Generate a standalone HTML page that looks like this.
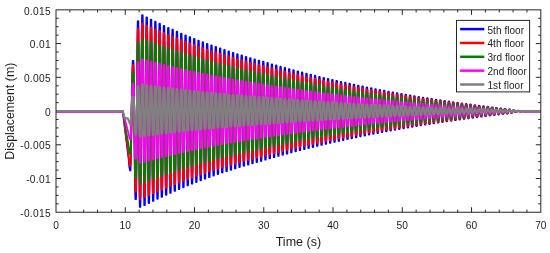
<!DOCTYPE html>
<html lang="en"><head><meta charset="utf-8"><title>Displacement vs Time</title>
<style>
html,body{margin:0;padding:0;background:#fff;}
body{width:550px;height:253px;position:relative;overflow:hidden;font-family:"Liberation Sans",sans-serif;color:#1c1c1c;}
.t{position:absolute;white-space:nowrap;line-height:1;}
.yt{font-size:10.2px;text-align:right;width:40px;left:10.9px;letter-spacing:0.3px;}
.xt{font-size:10.2px;text-align:center;width:40px;}
.lg{font-size:10px;left:487.5px;letter-spacing:0.05px;}
.xl{font-size:12.5px;left:248.4px;width:100px;text-align:center;top:236.0px;}
.yl{font-size:12.4px;left:-40.05px;top:104.6px;width:100px;text-align:center;transform:rotate(-90deg);transform-origin:50% 50%;}
</style></head><body>
<svg width="550" height="253" viewBox="0 0 550 253" style="position:absolute;left:0;top:0">
<rect x="0" y="0" width="550" height="253" fill="#ffffff"/>
<path stroke="#262626" stroke-width="1" fill="none" d="M69.85,212.25 v-2.60 M69.85,9.85 v2.60 M83.70,212.25 v-2.60 M83.70,9.85 v2.60 M97.55,212.25 v-2.60 M97.55,9.85 v2.60 M111.41,212.25 v-2.60 M111.41,9.85 v2.60 M125.26,212.25 v-5.00 M125.26,9.85 v5.00 M139.11,212.25 v-2.60 M139.11,9.85 v2.60 M152.96,212.25 v-2.60 M152.96,9.85 v2.60 M166.81,212.25 v-2.60 M166.81,9.85 v2.60 M180.66,212.25 v-2.60 M180.66,9.85 v2.60 M194.51,212.25 v-5.00 M194.51,9.85 v5.00 M208.37,212.25 v-2.60 M208.37,9.85 v2.60 M222.22,212.25 v-2.60 M222.22,9.85 v2.60 M236.07,212.25 v-2.60 M236.07,9.85 v2.60 M249.92,212.25 v-2.60 M249.92,9.85 v2.60 M263.77,212.25 v-5.00 M263.77,9.85 v5.00 M277.62,212.25 v-2.60 M277.62,9.85 v2.60 M291.47,212.25 v-2.60 M291.47,9.85 v2.60 M305.33,212.25 v-2.60 M305.33,9.85 v2.60 M319.18,212.25 v-2.60 M319.18,9.85 v2.60 M333.03,212.25 v-5.00 M333.03,9.85 v5.00 M346.88,212.25 v-2.60 M346.88,9.85 v2.60 M360.73,212.25 v-2.60 M360.73,9.85 v2.60 M374.58,212.25 v-2.60 M374.58,9.85 v2.60 M388.43,212.25 v-2.60 M388.43,9.85 v2.60 M402.29,212.25 v-5.00 M402.29,9.85 v5.00 M416.14,212.25 v-2.60 M416.14,9.85 v2.60 M429.99,212.25 v-2.60 M429.99,9.85 v2.60 M443.84,212.25 v-2.60 M443.84,9.85 v2.60 M457.69,212.25 v-2.60 M457.69,9.85 v2.60 M471.54,212.25 v-5.00 M471.54,9.85 v5.00 M485.39,212.25 v-2.60 M485.39,9.85 v2.60 M499.25,212.25 v-2.60 M499.25,9.85 v2.60 M513.10,212.25 v-2.60 M513.10,9.85 v2.60 M526.95,212.25 v-2.60 M526.95,9.85 v2.60 M56.00,18.28 h2.60 M540.80,18.28 h-2.60 M56.00,26.72 h2.60 M540.80,26.72 h-2.60 M56.00,35.15 h2.60 M540.80,35.15 h-2.60 M56.00,43.58 h5.00 M540.80,43.58 h-5.00 M56.00,52.02 h2.60 M540.80,52.02 h-2.60 M56.00,60.45 h2.60 M540.80,60.45 h-2.60 M56.00,68.88 h2.60 M540.80,68.88 h-2.60 M56.00,77.32 h5.00 M540.80,77.32 h-5.00 M56.00,85.75 h2.60 M540.80,85.75 h-2.60 M56.00,94.18 h2.60 M540.80,94.18 h-2.60 M56.00,102.62 h2.60 M540.80,102.62 h-2.60 M56.00,111.05 h5.00 M540.80,111.05 h-5.00 M56.00,119.48 h2.60 M540.80,119.48 h-2.60 M56.00,127.92 h2.60 M540.80,127.92 h-2.60 M56.00,136.35 h2.60 M540.80,136.35 h-2.60 M56.00,144.78 h5.00 M540.80,144.78 h-5.00 M56.00,153.22 h2.60 M540.80,153.22 h-2.60 M56.00,161.65 h2.60 M540.80,161.65 h-2.60 M56.00,170.08 h2.60 M540.80,170.08 h-2.60 M56.00,178.52 h5.00 M540.80,178.52 h-5.00 M56.00,186.95 h2.60 M540.80,186.95 h-2.60 M56.00,195.38 h2.60 M540.80,195.38 h-2.60 M56.00,203.82 h2.60 M540.80,203.82 h-2.60"/>
<g fill="none" stroke-linejoin="round" stroke-linecap="butt" stroke-width="1.80">
<path transform="translate(0,0.30)" stroke="#0000ff" d="M56.00,111.00 L122.80,111.00 L123.53,116.93 L124.26,122.86 L124.99,128.79 L125.72,134.72 L126.45,140.65 L127.18,146.58 L127.91,152.51 L128.64,158.44 L129.37,166.83 L130.10,170.30 L130.47,170.04 L130.85,161.05 L131.22,141.28 L131.60,115.40 L131.97,89.52 L132.35,69.75 L132.72,60.76 L133.10,60.50 L133.42,60.55 L133.75,70.70 L134.07,95.89 L134.40,129.70 L134.72,163.51 L135.05,188.70 L135.38,198.85 L135.70,198.90 L135.99,198.90 L136.29,187.30 L136.58,154.66 L136.88,109.85 L137.17,65.04 L137.46,32.40 L137.76,20.80 L138.05,20.80 L138.30,20.80 L138.56,30.19 L138.81,64.46 L139.06,113.70 L139.31,162.94 L139.56,197.21 L139.82,206.60 L140.07,206.60 L140.36,206.60 L140.65,194.26 L140.94,159.13 L141.24,110.78 L141.53,62.42 L141.82,27.29 L142.11,14.95 L142.40,14.95 L142.67,14.95 L142.94,25.82 L143.21,60.77 L143.48,109.91 L143.75,159.04 L144.02,194.00 L144.29,204.86 L144.56,204.86 L144.83,204.86 L145.10,194.12 L145.37,159.57 L145.64,111.00 L145.91,62.43 L146.18,27.88 L146.45,17.13 L146.72,17.13 L146.99,17.13 L147.26,27.75 L147.53,61.91 L147.80,109.92 L148.07,157.94 L148.34,192.10 L148.61,202.72 L148.88,202.72 L149.15,202.72 L149.42,192.22 L149.69,158.46 L149.96,111.00 L150.23,63.54 L150.50,29.78 L150.77,19.28 L151.03,19.28 L151.30,19.28 L151.57,29.66 L151.84,63.03 L152.11,109.94 L152.38,156.86 L152.65,190.23 L152.92,200.60 L153.19,200.60 L153.46,200.60 L153.73,190.35 L154.00,157.36 L154.27,111.00 L154.54,64.63 L154.81,31.65 L155.08,21.39 L155.35,21.39 L155.62,21.39 L155.89,31.53 L156.16,64.13 L156.43,109.96 L156.70,155.79 L156.97,188.40 L157.24,198.53 L157.51,198.53 L157.78,198.53 L158.05,188.52 L158.32,156.29 L158.59,111.00 L158.86,65.70 L159.13,33.48 L159.40,23.46 L159.67,23.46 L159.94,23.46 L160.21,33.36 L160.48,65.21 L160.75,109.98 L161.02,154.75 L161.29,186.60 L161.56,196.50 L161.83,196.50 L162.10,196.50 L162.37,186.71 L162.64,155.24 L162.91,111.00 L163.18,66.76 L163.45,35.28 L163.72,25.50 L163.99,25.50 L164.26,25.50 L164.53,35.17 L164.80,66.27 L165.07,110.00 L165.34,153.72 L165.61,184.83 L165.88,194.50 L166.15,194.50 L166.42,194.50 L166.69,184.95 L166.96,154.21 L167.23,111.00 L167.50,67.79 L167.77,37.05 L168.04,27.49 L168.31,27.49 L168.57,27.49 L168.84,36.93 L169.11,67.32 L169.38,110.02 L169.65,152.72 L169.92,183.10 L170.19,192.55 L170.46,192.55 L170.73,192.55 L171.00,183.21 L171.27,153.19 L171.54,111.00 L171.81,68.80 L172.08,38.78 L172.35,29.44 L172.62,29.44 L172.89,29.44 L173.16,38.67 L173.43,68.34 L173.70,110.04 L173.97,151.74 L174.24,181.41 L174.51,190.63 L174.78,190.63 L175.05,190.63 L175.32,181.52 L175.59,152.20 L175.86,110.99 L176.13,69.79 L176.40,40.47 L176.67,31.36 L176.94,31.36 L177.21,31.36 L177.48,40.36 L177.75,69.33 L178.02,110.06 L178.29,150.78 L178.56,179.75 L178.83,188.76 L179.10,188.76 L179.37,188.76 L179.64,179.86 L179.91,151.23 L180.18,110.99 L180.45,70.75 L180.72,42.13 L180.99,33.23 L181.26,33.23 L181.53,33.23 L181.80,42.02 L182.07,70.31 L182.34,110.08 L182.61,149.84 L182.88,178.13 L183.15,186.93 L183.42,186.93 L183.69,186.93 L183.96,178.24 L184.23,150.28 L184.50,110.99 L184.77,71.70 L185.04,43.75 L185.31,35.06 L185.57,35.06 L185.84,35.06 L186.11,43.65 L186.38,71.27 L186.65,110.10 L186.92,148.92 L187.19,176.55 L187.46,185.13 L187.73,185.13 L188.00,185.13 L188.27,176.65 L188.54,149.36 L188.81,110.99 L189.08,72.63 L189.35,45.33 L189.62,36.85 L189.89,36.85 L190.16,36.85 L190.43,45.23 L190.70,72.20 L190.97,110.12 L191.24,148.03 L191.51,175.00 L191.78,183.38 L192.05,183.38 L192.32,183.38 L192.59,175.10 L192.86,148.45 L193.13,110.99 L193.40,73.53 L193.67,46.88 L193.94,38.60 L194.21,38.60 L194.48,38.60 L194.75,46.78 L195.02,73.12 L195.29,110.14 L195.56,147.15 L195.83,173.49 L196.10,181.68 L196.37,181.68 L196.64,181.68 L196.91,173.59 L197.18,147.56 L197.45,110.99 L197.72,74.41 L197.99,48.39 L198.26,40.30 L198.53,40.30 L198.80,40.30 L199.07,48.30 L199.34,74.01 L199.61,110.15 L199.88,146.30 L200.15,172.01 L200.42,180.01 L200.69,180.01 L200.96,180.01 L201.23,172.11 L201.50,146.70 L201.77,110.99 L202.04,75.27 L202.31,49.86 L202.58,41.97 L202.84,41.97 L203.11,41.97 L203.38,49.77 L203.65,74.88 L203.92,110.17 L204.19,145.47 L204.46,170.58 L204.73,178.38 L205.00,178.38 L205.27,178.38 L205.54,170.67 L205.81,145.86 L206.08,110.99 L206.35,76.11 L206.62,51.30 L206.89,43.59 L207.16,43.59 L207.43,43.59 L207.70,51.21 L207.97,75.73 L208.24,110.19 L208.51,144.66 L208.78,169.18 L209.05,176.80 L209.32,176.80 L209.59,176.80 L209.86,169.27 L210.13,145.04 L210.40,110.99 L210.67,76.93 L210.94,52.71 L211.21,45.17 L211.48,45.17 L211.75,45.17 L212.02,52.62 L212.29,76.56 L212.56,110.21 L212.83,143.87 L213.10,167.81 L213.37,175.25 L213.64,175.25 L213.91,175.25 L214.18,167.90 L214.45,144.24 L214.72,110.98 L214.99,77.73 L215.26,54.07 L215.53,46.72 L215.80,46.72 L216.07,46.72 L216.34,53.99 L216.61,77.37 L216.88,110.23 L217.15,143.10 L217.42,166.48 L217.69,173.74 L217.96,173.74 L218.23,173.74 L218.50,166.56 L218.77,143.46 L219.04,110.98 L219.31,78.51 L219.58,55.41 L219.85,48.22 L220.12,48.22 L220.38,48.22 L220.65,55.32 L220.92,78.16 L221.19,110.25 L221.46,142.34 L221.73,165.18 L222.00,172.28 L222.27,172.28 L222.54,172.28 L222.81,165.26 L223.08,142.70 L223.35,110.98 L223.62,79.27 L223.89,56.71 L224.16,49.69 L224.43,49.69 L224.70,49.69 L224.97,56.62 L225.24,78.92 L225.51,110.27 L225.78,141.61 L226.05,163.91 L226.32,170.84 L226.59,170.84 L226.86,170.84 L227.13,163.99 L227.40,141.96 L227.67,110.98 L227.94,80.01 L228.21,57.97 L228.48,51.12 L228.75,51.12 L229.02,51.12 L229.29,57.89 L229.56,79.67 L229.83,110.29 L230.10,140.90 L230.37,162.68 L230.64,169.45 L230.91,169.45 L231.18,169.45 L231.45,162.76 L231.72,141.24 L231.99,110.98 L232.26,80.73 L232.53,59.21 L232.80,52.52 L233.07,52.52 L233.34,52.52 L233.61,59.13 L233.88,80.40 L234.15,110.30 L234.42,140.20 L234.69,161.48 L234.96,168.09 L235.23,168.09 L235.50,168.09 L235.77,161.55 L236.04,140.53 L236.31,110.99 L236.58,81.44 L236.85,60.42 L237.12,53.88 L237.38,53.88 L237.65,53.88 L237.92,60.34 L238.19,81.12 L238.46,110.32 L238.73,139.53 L239.00,160.30 L239.27,166.76 L239.54,166.76 L239.81,166.76 L240.08,160.38 L240.35,139.85 L240.62,110.99 L240.89,82.13 L241.16,61.60 L241.43,55.21 L241.70,55.21 L241.97,55.21 L242.24,61.52 L242.51,81.81 L242.78,110.34 L243.05,138.86 L243.32,159.16 L243.59,165.46 L243.86,165.46 L244.13,165.46 L244.40,159.23 L244.67,139.18 L244.94,110.99 L245.21,82.80 L245.48,62.75 L245.75,56.51 L246.02,56.51 L246.29,56.51 L246.56,62.67 L246.83,82.49 L247.10,110.36 L247.37,138.22 L247.64,158.04 L247.91,164.20 L248.18,164.20 L248.45,164.20 L248.72,158.11 L248.99,138.52 L249.26,110.99 L249.53,83.46 L249.80,63.87 L250.07,57.78 L250.34,57.78 L250.61,57.78 L250.88,63.80 L251.15,83.16 L251.42,110.37 L251.69,137.58 L251.96,156.94 L252.23,162.96 L252.50,162.96 L252.77,162.96 L253.04,157.01 L253.31,137.88 L253.58,110.99 L253.85,84.10 L254.12,64.97 L254.39,59.02 L254.66,59.02 L254.92,59.02 L255.19,64.90 L255.46,83.81 L255.73,110.39 L256.00,136.96 L256.27,155.87 L256.54,161.75 L256.81,161.75 L257.08,161.75 L257.35,155.94 L257.62,137.26 L257.89,111.00 L258.16,84.73 L258.43,66.05 L258.70,60.24 L258.97,60.24 L259.24,60.24 L259.51,65.98 L259.78,84.45 L260.05,110.40 L260.32,136.36 L260.59,154.82 L260.86,160.56 L261.13,160.56 L261.40,160.56 L261.67,154.89 L261.94,136.65 L262.21,111.00 L262.48,85.35 L262.75,67.11 L263.02,61.43 L263.29,61.43 L263.56,61.43 L263.83,67.04 L264.10,85.06 L264.37,110.39 L264.64,135.72 L264.91,153.74 L265.18,159.34 L265.45,159.34 L265.72,159.34 L265.99,153.82 L266.26,136.03 L266.53,111.03 L266.80,86.03 L267.07,68.25 L267.34,62.72 L267.61,62.72 L267.88,62.72 L268.15,68.17 L268.42,85.73 L268.69,110.40 L268.96,135.08 L269.23,152.63 L269.50,158.09 L269.77,158.09 L270.04,158.09 L270.31,152.71 L270.58,135.38 L270.85,111.03 L271.12,86.68 L271.39,69.36 L271.66,63.98 L271.93,63.98 L272.19,63.98 L272.46,69.29 L272.73,86.39 L273.00,110.42 L273.27,134.45 L273.54,151.55 L273.81,156.86 L274.08,156.86 L274.35,156.86 L274.62,151.62 L274.89,134.75 L275.16,111.04 L275.43,87.33 L275.70,70.46 L275.97,65.22 L276.24,65.22 L276.51,65.22 L276.78,70.39 L277.05,87.04 L277.32,110.43 L277.59,133.83 L277.86,150.48 L278.13,155.65 L278.40,155.65 L278.67,155.65 L278.94,150.55 L279.21,134.12 L279.48,111.04 L279.75,87.96 L280.02,71.54 L280.29,66.43 L280.56,66.43 L280.83,66.43 L281.10,71.47 L281.37,87.67 L281.64,110.45 L281.91,133.22 L282.18,149.42 L282.45,154.46 L282.72,154.46 L282.99,154.46 L283.26,149.49 L283.53,133.51 L283.80,111.05 L284.07,88.58 L284.34,72.60 L284.61,67.63 L284.88,67.63 L285.15,67.63 L285.42,72.53 L285.69,88.30 L285.96,110.46 L286.23,132.62 L286.50,148.39 L286.77,153.29 L287.04,153.29 L287.31,153.29 L287.58,148.46 L287.85,132.91 L288.12,111.05 L288.39,89.19 L288.66,73.64 L288.93,68.81 L289.19,68.81 L289.46,68.81 L289.73,73.58 L290.00,88.92 L290.27,110.48 L290.54,132.04 L290.81,147.38 L291.08,152.14 L291.35,152.14 L291.62,152.14 L291.89,147.44 L292.16,132.32 L292.43,111.05 L292.70,89.79 L292.97,74.67 L293.24,69.96 L293.51,69.96 L293.78,69.96 L294.05,74.60 L294.32,89.52 L294.59,110.49 L294.86,131.46 L295.13,146.38 L295.40,151.02 L295.67,151.02 L295.94,151.02 L296.21,146.44 L296.48,131.73 L296.75,111.06 L297.02,90.38 L297.29,75.67 L297.56,71.10 L297.83,71.10 L298.10,71.10 L298.37,75.61 L298.64,90.12 L298.91,110.50 L299.18,130.89 L299.45,145.40 L299.72,149.91 L299.99,149.91 L300.26,149.91 L300.53,145.46 L300.80,131.16 L301.07,111.06 L301.34,90.96 L301.61,76.66 L301.88,72.22 L302.15,72.22 L302.42,72.22 L302.69,76.60 L302.96,90.70 L303.23,110.52 L303.50,130.34 L303.77,144.43 L304.04,148.82 L304.31,148.82 L304.58,148.82 L304.85,144.50 L305.12,130.60 L305.39,111.07 L305.66,91.53 L305.93,77.64 L306.20,73.32 L306.47,73.32 L306.73,73.32 L307.00,77.58 L307.27,91.28 L307.54,110.53 L307.81,129.79 L308.08,143.49 L308.35,147.75 L308.62,147.75 L308.89,147.75 L309.16,143.55 L309.43,130.05 L309.70,111.07 L309.97,92.10 L310.24,78.59 L310.51,74.40 L310.78,74.40 L311.05,74.40 L311.32,78.53 L311.59,91.84 L311.86,110.55 L312.13,129.25 L312.40,142.56 L312.67,146.69 L312.94,146.69 L313.21,146.69 L313.48,142.62 L313.75,129.51 L314.02,111.08 L314.29,92.65 L314.56,79.53 L314.83,75.46 L315.10,75.46 L315.37,75.46 L315.64,79.48 L315.91,92.40 L316.18,110.56 L316.45,128.72 L316.72,141.64 L316.99,145.66 L317.26,145.66 L317.53,145.66 L317.80,141.70 L318.07,128.97 L318.34,111.08 L318.61,93.19 L318.88,80.46 L319.15,76.50 L319.42,76.50 L319.69,76.50 L319.96,80.40 L320.23,92.94 L320.50,110.57 L320.77,128.20 L321.04,140.74 L321.31,144.64 L321.58,144.64 L321.85,144.64 L322.12,140.80 L322.39,128.45 L322.66,111.09 L322.93,93.72 L323.20,81.37 L323.47,77.53 L323.74,77.53 L324.00,77.53 L324.27,81.31 L324.54,93.48 L324.81,110.59 L325.08,127.69 L325.35,139.86 L325.62,143.64 L325.89,143.64 L326.16,143.64 L326.43,139.92 L326.70,127.94 L326.97,111.09 L327.24,94.25 L327.51,82.26 L327.78,78.54 L328.05,78.54 L328.32,78.54 L328.59,82.21 L328.86,94.01 L329.13,110.60 L329.40,127.19 L329.67,138.99 L329.94,142.66 L330.21,142.66 L330.48,142.66 L330.75,139.05 L331.02,127.43 L331.29,111.10 L331.56,94.76 L331.83,83.14 L332.10,79.53 L332.37,79.53 L332.64,79.53 L332.91,83.08 L333.18,94.53 L333.45,110.61 L333.72,126.70 L333.99,138.14 L334.26,141.70 L334.53,141.70 L334.80,141.70 L335.07,138.20 L335.34,126.93 L335.61,111.10 L335.88,95.27 L336.15,84.00 L336.42,80.50 L336.69,80.50 L336.96,80.50 L337.23,83.95 L337.50,95.04 L337.77,110.62 L338.04,126.21 L338.31,137.29 L338.58,140.74 L338.85,140.74 L339.12,140.74 L339.39,137.35 L339.66,126.44 L339.93,111.11 L340.20,95.78 L340.47,84.87 L340.74,81.48 L341.00,81.48 L341.27,81.48 L341.54,84.82 L341.81,95.55 L342.08,110.63 L342.35,125.72 L342.62,136.45 L342.89,139.79 L343.16,139.79 L343.43,139.79 L343.70,136.51 L343.97,125.95 L344.24,111.12 L344.51,96.28 L344.78,85.72 L345.05,82.44 L345.32,82.44 L345.59,82.44 L345.86,85.67 L346.13,96.05 L346.40,110.65 L346.67,125.24 L346.94,135.62 L347.21,138.85 L347.48,138.85 L347.75,138.85 L348.02,135.68 L348.29,125.47 L348.56,111.12 L348.83,96.77 L349.10,86.56 L349.37,83.39 L349.64,83.39 L349.91,83.39 L350.18,86.51 L350.45,96.55 L350.72,110.66 L350.99,124.77 L351.26,134.81 L351.53,137.93 L351.80,137.93 L352.07,137.93 L352.34,134.86 L352.61,125.00 L352.88,111.13 L353.15,97.26 L353.42,87.39 L353.69,84.32 L353.96,84.32 L354.23,84.32 L354.50,87.34 L354.77,97.04 L355.04,110.67 L355.31,124.31 L355.58,134.01 L355.85,137.03 L356.12,137.03 L356.39,137.03 L356.66,134.06 L356.93,124.53 L357.20,111.13 L357.47,97.73 L357.74,88.20 L358.01,85.24 L358.27,85.24 L358.54,85.24 L358.81,88.15 L359.08,97.52 L359.35,110.69 L359.62,123.86 L359.89,133.22 L360.16,136.14 L360.43,136.14 L360.70,136.14 L360.97,133.28 L361.24,124.07 L361.51,111.14 L361.78,98.20 L362.05,89.00 L362.32,86.14 L362.59,86.14 L362.86,86.14 L363.13,88.95 L363.40,97.99 L363.67,110.70 L363.94,123.41 L364.21,132.45 L364.48,135.26 L364.75,135.26 L365.02,135.26 L365.29,132.50 L365.56,123.62 L365.83,111.14 L366.10,98.66 L366.37,89.78 L366.64,87.02 L366.91,87.02 L367.18,87.02 L367.45,89.73 L367.72,98.45 L367.99,110.71 L368.26,122.97 L368.53,131.69 L368.80,134.40 L369.07,134.40 L369.34,134.40 L369.61,131.74 L369.88,123.18 L370.15,111.15 L370.42,99.12 L370.69,90.55 L370.96,87.89 L371.23,87.89 L371.50,87.89 L371.77,90.51 L372.04,98.91 L372.31,110.73 L372.58,122.54 L372.85,130.94 L373.12,133.56 L373.39,133.56 L373.66,133.56 L373.93,130.99 L374.20,122.75 L374.47,111.15 L374.74,99.56 L375.01,91.31 L375.28,88.75 L375.54,88.75 L375.81,88.75 L376.08,91.27 L376.35,99.36 L376.62,110.74 L376.89,122.12 L377.16,130.21 L377.43,132.73 L377.70,132.73 L377.97,132.73 L378.24,130.26 L378.51,122.32 L378.78,111.16 L379.05,100.00 L379.32,92.06 L379.59,89.59 L379.86,89.59 L380.13,89.59 L380.40,92.01 L380.67,99.80 L380.94,110.75 L381.21,121.70 L381.48,129.49 L381.75,131.91 L382.02,131.91 L382.29,131.91 L382.56,129.54 L382.83,121.90 L383.10,111.16 L383.37,100.43 L383.64,92.79 L383.91,90.42 L384.18,90.42 L384.45,90.42 L384.72,92.75 L384.99,100.24 L385.26,110.76 L385.53,121.29 L385.80,128.78 L386.07,131.11 L386.34,131.11 L386.61,131.11 L386.88,128.83 L387.15,121.49 L387.42,111.17 L387.69,100.85 L387.96,93.51 L388.23,91.23 L388.50,91.23 L388.77,91.23 L389.04,93.47 L389.31,100.66 L389.58,110.78 L389.85,120.89 L390.12,128.08 L390.39,130.32 L390.66,130.32 L390.93,130.32 L391.20,128.13 L391.47,121.08 L391.74,111.18 L392.01,101.27 L392.28,94.22 L392.55,92.03 L392.81,92.03 L393.08,92.03 L393.35,94.18 L393.62,101.08 L393.89,110.79 L394.16,120.49 L394.43,127.40 L394.70,129.54 L394.97,129.54 L395.24,129.54 L395.51,127.44 L395.78,120.68 L396.05,111.18 L396.32,101.68 L396.59,94.92 L396.86,92.82 L397.13,92.82 L397.40,92.82 L397.67,94.88 L397.94,101.50 L398.21,110.80 L398.48,120.11 L398.75,126.72 L399.02,128.78 L399.29,128.78 L399.56,128.78 L399.83,126.77 L400.10,120.29 L400.37,111.19 L400.64,102.08 L400.91,95.61 L401.18,93.59 L401.45,93.59 L401.72,93.59 L401.99,95.56 L402.26,101.90 L402.53,110.81 L402.80,119.72 L403.07,126.06 L403.34,128.03 L403.61,128.03 L403.88,128.03 L404.15,126.10 L404.42,119.90 L404.69,111.19 L404.96,102.47 L405.23,96.27 L405.50,94.35 L405.77,94.35 L406.04,94.35 L406.31,96.23 L406.58,102.29 L406.85,110.81 L407.12,119.34 L407.39,125.40 L407.66,127.28 L407.93,127.28 L408.20,127.28 L408.47,125.44 L408.74,119.51 L409.01,111.18 L409.28,102.85 L409.55,96.93 L409.82,95.09 L410.09,95.09 L410.35,95.09 L410.62,96.89 L410.89,102.68 L411.16,110.82 L411.43,118.96 L411.70,124.75 L411.97,126.55 L412.24,126.55 L412.51,126.55 L412.78,124.79 L413.05,119.13 L413.32,111.18 L413.59,103.23 L413.86,97.57 L414.13,95.81 L414.40,95.81 L414.67,95.81 L414.94,97.53 L415.21,103.05 L415.48,110.82 L415.75,118.59 L416.02,124.11 L416.29,125.83 L416.56,125.83 L416.83,125.83 L417.10,124.15 L417.37,118.76 L417.64,111.18 L417.91,103.60 L418.18,98.20 L418.45,96.53 L418.72,96.53 L418.99,96.53 L419.26,98.16 L419.53,103.43 L419.80,110.82 L420.07,118.22 L420.34,123.48 L420.61,125.12 L420.88,125.12 L421.15,125.12 L421.42,123.52 L421.69,118.39 L421.96,111.17 L422.23,103.96 L422.50,98.83 L422.77,97.23 L423.04,97.23 L423.31,97.23 L423.58,98.79 L423.85,103.79 L424.12,110.83 L424.39,117.86 L424.66,122.87 L424.93,124.42 L425.20,124.42 L425.47,124.42 L425.74,122.91 L426.01,118.03 L426.28,111.17 L426.55,104.31 L426.82,99.44 L427.09,97.92 L427.36,97.92 L427.62,97.92 L427.89,99.40 L428.16,104.15 L428.43,110.83 L428.70,117.51 L428.97,122.26 L429.24,123.74 L429.51,123.74 L429.78,123.74 L430.05,122.30 L430.32,117.67 L430.59,111.17 L430.86,104.66 L431.13,100.04 L431.40,98.60 L431.67,98.60 L431.94,98.60 L432.21,100.00 L432.48,104.50 L432.75,110.83 L433.02,117.16 L433.29,121.67 L433.56,123.07 L433.83,123.07 L434.10,123.07 L434.37,121.70 L434.64,117.32 L434.91,111.17 L435.18,105.01 L435.45,100.63 L435.72,99.27 L435.99,99.27 L436.26,99.27 L436.53,100.59 L436.80,104.85 L437.07,110.84 L437.34,116.82 L437.61,121.08 L437.88,122.40 L438.15,122.40 L438.42,122.40 L438.69,121.12 L438.96,116.98 L439.23,111.16 L439.50,105.35 L439.77,101.21 L440.04,99.92 L440.31,99.92 L440.58,99.92 L440.85,101.17 L441.12,105.19 L441.39,110.84 L441.66,116.49 L441.93,120.50 L442.20,121.75 L442.47,121.75 L442.74,121.75 L443.01,120.54 L443.28,116.64 L443.55,111.16 L443.82,105.68 L444.09,101.78 L444.36,100.57 L444.62,100.57 L444.89,100.57 L445.16,101.74 L445.43,105.53 L445.70,110.84 L445.97,116.16 L446.24,119.94 L446.51,121.11 L446.78,121.11 L447.05,121.11 L447.32,119.97 L447.59,116.31 L447.86,111.16 L448.13,106.01 L448.40,102.34 L448.67,101.20 L448.94,101.20 L449.21,101.20 L449.48,102.31 L449.75,105.85 L450.02,110.84 L450.29,115.83 L450.56,119.38 L450.83,120.48 L451.10,120.48 L451.37,120.48 L451.64,119.42 L451.91,115.98 L452.18,111.16 L452.45,106.33 L452.72,102.89 L452.99,101.83 L453.26,101.83 L453.53,101.83 L453.80,102.86 L454.07,106.18 L454.34,110.85 L454.61,115.51 L454.88,118.83 L455.15,119.87 L455.42,119.87 L455.69,119.87 L455.96,118.87 L456.23,115.66 L456.50,111.15 L456.77,106.64 L457.04,103.44 L457.31,102.44 L457.58,102.44 L457.85,102.44 L458.12,103.40 L458.39,106.50 L458.66,110.85 L458.93,115.20 L459.20,118.30 L459.47,119.26 L459.74,119.26 L460.01,119.26 L460.28,118.33 L460.55,115.35 L460.82,111.15 L461.09,106.95 L461.36,103.97 L461.63,103.04 L461.89,103.04 L462.16,103.04 L462.43,103.94 L462.70,106.81 L462.97,110.85 L463.24,114.89 L463.51,117.77 L463.78,118.66 L464.05,118.66 L464.32,118.66 L464.59,117.80 L464.86,115.04 L465.13,111.15 L465.40,107.26 L465.67,104.49 L465.94,103.63 L466.21,103.63 L466.48,103.63 L466.75,104.46 L467.02,107.12 L467.29,110.85 L467.56,114.59 L467.83,117.25 L468.10,118.07 L468.37,118.07 L468.64,118.07 L468.91,117.28 L469.18,114.73 L469.45,111.15 L469.72,107.56 L469.99,105.01 L470.26,104.22 L470.53,104.22 L470.80,104.22 L471.07,104.98 L471.34,107.42 L471.61,110.86 L471.88,114.29 L472.15,116.74 L472.42,117.50 L472.69,117.50 L472.96,117.50 L473.23,116.77 L473.50,114.43 L473.77,111.14 L474.04,107.86 L474.31,105.52 L474.58,104.79 L474.85,104.79 L475.12,104.79 L475.39,105.48 L475.66,107.72 L475.93,110.86 L476.20,114.00 L476.47,116.23 L476.74,116.93 L477.01,116.93 L477.28,116.93 L477.55,116.27 L477.82,114.13 L478.09,111.14 L478.36,108.15 L478.63,106.02 L478.90,105.35 L479.16,105.35 L479.43,105.35 L479.70,105.98 L479.97,108.01 L480.24,110.86 L480.51,113.71 L480.78,115.74 L481.05,116.37 L481.32,116.37 L481.59,116.37 L481.86,115.77 L482.13,113.84 L482.40,111.14 L482.67,108.43 L482.94,106.51 L483.21,105.91 L483.48,105.91 L483.75,105.91 L484.02,106.47 L484.29,108.30 L484.56,110.86 L484.83,113.43 L485.10,115.25 L485.37,115.82 L485.64,115.82 L485.91,115.82 L486.18,115.28 L486.45,113.56 L486.72,111.14 L486.99,108.71 L487.26,106.99 L487.53,106.45 L487.80,106.45 L488.07,106.45 L488.34,106.96 L488.61,108.58 L488.88,110.87 L489.15,113.15 L489.42,114.78 L489.69,115.28 L489.96,115.28 L490.23,115.28 L490.50,114.81 L490.77,113.28 L491.04,111.13 L491.31,108.99 L491.58,107.46 L491.85,106.99 L492.12,106.99 L492.39,106.99 L492.66,107.43 L492.93,108.86 L493.20,110.87 L493.47,112.88 L493.74,114.31 L494.01,114.75 L494.28,114.75 L494.55,114.75 L494.82,114.34 L495.09,113.00 L495.36,111.13 L495.63,109.26 L495.90,107.93 L496.17,107.51 L496.43,107.51 L496.70,107.51 L496.97,107.90 L497.24,109.13 L497.51,110.87 L497.78,112.61 L498.05,113.84 L498.32,114.23 L498.59,114.23 L498.86,114.23 L499.13,113.87 L499.40,112.73 L499.67,111.13 L499.94,109.53 L500.21,108.38 L500.48,108.03 L500.75,108.03 L501.02,108.03 L501.29,108.35 L501.56,109.40 L501.83,110.87 L502.10,112.34 L502.37,113.39 L502.64,113.71 L502.91,113.71 L503.18,113.71 L503.45,113.42 L503.72,112.47 L503.99,111.13 L504.26,109.79 L504.53,108.83 L504.80,108.54 L505.07,108.54 L505.34,108.54 L505.61,108.81 L505.88,109.67 L506.15,110.87 L506.42,112.08 L506.69,112.94 L506.96,113.21 L507.23,113.21 L507.50,113.21 L507.77,112.97 L508.04,112.20 L508.31,111.12 L508.58,110.04 L508.85,109.28 L509.12,109.04 L509.39,109.04 L509.66,109.04 L509.93,109.24 L510.20,109.89 L510.47,110.80 L510.74,111.71 L511.01,112.36 L511.28,112.56 L511.55,112.56 L511.82,112.56 L512.09,112.41 L512.36,111.90 L512.63,111.20 L512.90,110.49 L513.17,109.99 L513.44,109.83 L513.71,109.83 L513.97,109.83 L514.24,109.94 L514.51,110.30 L514.78,110.80 L515.05,111.30 L515.32,111.66 L515.59,111.77 L515.86,111.77 L516.13,111.77 L516.40,111.71 L516.67,111.49 L516.94,111.19 L517.21,110.89 L517.48,110.67 L517.75,110.61 L518.02,110.61 L518.29,110.61 L518.56,110.64 L518.83,110.76 L519.10,110.92 L519.37,111.09 L519.64,111.21 L519.91,111.24 L520.18,111.24 L520.45,111.24 L520.72,111.22 L520.99,111.16 L521.26,111.08 L521.53,110.99 L521.80,110.93 L522.07,110.91 L522.34,110.91 L522.61,110.91 L522.88,110.91 L523.15,110.93 L523.42,110.95 L523.69,110.98 L523.96,110.99 L524.23,111.00 L524.50,111.00 L526.00,111.00 L540.80,111.00"/>
<path transform="translate(0,0.30)" stroke="#ff0000" d="M56.00,111.00 L122.80,111.00 L123.53,116.50 L124.26,121.99 L124.99,127.49 L125.72,132.99 L126.45,138.49 L127.18,143.98 L127.91,149.48 L128.64,154.98 L129.37,162.75 L130.10,165.97 L130.47,165.73 L130.85,157.44 L131.22,139.22 L131.60,115.36 L131.97,91.50 L132.35,73.28 L132.72,64.99 L133.10,64.75 L133.42,64.80 L133.75,74.08 L134.07,97.13 L134.40,128.07 L134.72,159.01 L135.05,182.06 L135.38,191.34 L135.70,191.39 L135.99,191.39 L136.29,180.77 L136.58,150.91 L136.88,109.91 L137.17,68.90 L137.46,39.04 L137.76,28.42 L138.05,28.42 L138.30,28.42 L138.56,37.02 L138.81,68.37 L139.06,113.43 L139.31,158.48 L139.56,189.84 L139.82,198.43 L140.07,198.43 L140.36,198.43 L140.65,187.14 L140.94,154.99 L141.24,110.75 L141.53,66.51 L141.82,34.35 L142.11,23.07 L142.40,23.07 L142.67,23.07 L142.94,33.01 L143.21,64.99 L143.48,109.95 L143.75,154.91 L144.02,186.90 L144.29,196.84 L144.56,196.84 L144.83,196.84 L145.10,187.01 L145.37,155.39 L145.64,110.95 L145.91,66.51 L146.18,34.89 L146.45,25.07 L146.72,25.07 L146.99,25.07 L147.26,34.78 L147.53,66.04 L147.80,109.97 L148.07,153.90 L148.34,185.16 L148.61,194.87 L148.88,194.87 L149.15,194.87 L149.42,185.27 L149.69,154.38 L149.96,110.95 L150.23,67.53 L150.50,36.64 L150.77,27.03 L151.03,27.03 L151.30,27.03 L151.57,36.53 L151.84,67.06 L152.11,109.99 L152.38,152.91 L152.65,183.45 L152.92,192.94 L153.19,192.94 L153.46,192.94 L153.73,183.56 L154.00,153.38 L154.27,110.95 L154.54,68.53 L154.81,38.35 L155.08,28.96 L155.35,28.96 L155.62,28.96 L155.89,38.24 L156.16,68.07 L156.43,110.01 L156.70,151.94 L156.97,181.77 L157.24,191.05 L157.51,191.05 L157.78,191.05 L158.05,181.88 L158.32,152.40 L158.59,110.95 L158.86,69.51 L159.13,40.03 L159.40,30.86 L159.67,30.86 L159.94,30.86 L160.21,39.92 L160.48,69.06 L160.75,110.02 L161.02,150.99 L161.29,180.13 L161.56,189.19 L161.83,189.19 L162.10,189.19 L162.37,180.23 L162.64,151.44 L162.91,110.95 L163.18,70.47 L163.45,41.67 L163.72,32.72 L163.99,32.72 L164.26,32.72 L164.53,41.57 L164.80,70.03 L165.07,110.04 L165.34,150.05 L165.61,178.51 L165.88,187.36 L166.15,187.36 L166.42,187.36 L166.69,178.62 L166.96,150.49 L167.23,110.95 L167.50,71.42 L167.77,43.29 L168.04,34.55 L168.31,34.55 L168.57,34.55 L168.84,43.19 L169.11,70.99 L169.38,110.06 L169.65,149.13 L169.92,176.93 L170.19,185.57 L170.46,185.57 L170.73,185.57 L171.00,177.03 L171.27,149.57 L171.54,110.95 L171.81,72.34 L172.08,44.87 L172.35,36.33 L172.62,36.33 L172.89,36.33 L173.16,44.77 L173.43,71.92 L173.70,110.08 L173.97,148.24 L174.24,175.38 L174.51,183.82 L174.78,183.82 L175.05,183.82 L175.32,175.48 L175.59,148.66 L175.86,110.95 L176.13,73.25 L176.40,46.42 L176.67,38.09 L176.94,38.09 L177.21,38.09 L177.48,46.33 L177.75,72.84 L178.02,110.10 L178.29,147.36 L178.56,173.87 L178.83,182.11 L179.10,182.11 L179.37,182.11 L179.64,173.97 L179.91,147.77 L180.18,110.95 L180.45,74.14 L180.72,47.94 L180.99,39.80 L181.26,39.80 L181.53,39.80 L181.80,47.85 L182.07,73.73 L182.34,110.12 L182.61,146.50 L182.88,172.39 L183.15,180.43 L183.42,180.43 L183.69,180.43 L183.96,172.48 L184.23,146.90 L184.50,110.95 L184.77,75.00 L185.04,49.43 L185.31,41.48 L185.57,41.48 L185.84,41.48 L186.11,49.33 L186.38,74.61 L186.65,110.13 L186.92,145.66 L187.19,170.94 L187.46,178.79 L187.73,178.79 L188.00,178.79 L188.27,171.03 L188.54,146.06 L188.81,110.95 L189.08,75.85 L189.35,50.88 L189.62,43.11 L189.89,43.11 L190.16,43.11 L190.43,50.78 L190.70,75.46 L190.97,110.15 L191.24,144.84 L191.51,169.52 L191.78,177.19 L192.05,177.19 L192.32,177.19 L192.59,169.61 L192.86,145.23 L193.13,110.95 L193.40,76.68 L193.67,52.29 L193.94,44.71 L194.21,44.71 L194.48,44.71 L194.75,52.20 L195.02,76.30 L195.29,110.17 L195.56,144.04 L195.83,168.14 L196.10,175.63 L196.37,175.63 L196.64,175.63 L196.91,168.23 L197.18,144.42 L197.45,110.95 L197.72,77.49 L197.99,53.68 L198.26,46.27 L198.53,46.27 L198.80,46.27 L199.07,53.59 L199.34,77.12 L199.61,110.19 L199.88,143.26 L200.15,166.79 L200.42,174.11 L200.69,174.11 L200.96,174.11 L201.23,166.88 L201.50,143.63 L201.77,110.95 L202.04,78.27 L202.31,55.03 L202.58,47.80 L202.84,47.80 L203.11,47.80 L203.38,54.94 L203.65,77.92 L203.92,110.21 L204.19,142.50 L204.46,165.48 L204.73,172.62 L205.00,172.62 L205.27,172.62 L205.54,165.56 L205.81,142.86 L206.08,110.95 L206.35,79.04 L206.62,56.34 L206.89,49.29 L207.16,49.29 L207.43,49.29 L207.70,56.26 L207.97,78.69 L208.24,110.23 L208.51,141.76 L208.78,164.20 L209.05,171.17 L209.32,171.17 L209.59,171.17 L209.86,164.28 L210.13,142.11 L210.40,110.95 L210.67,79.79 L210.94,57.63 L211.21,50.74 L211.48,50.74 L211.75,50.74 L212.02,57.55 L212.29,79.45 L212.56,110.25 L212.83,141.04 L213.10,162.95 L213.37,169.76 L213.64,169.76 L213.91,169.76 L214.18,163.03 L214.45,141.38 L214.72,110.95 L214.99,80.53 L215.26,58.88 L215.53,52.15 L215.80,52.15 L216.07,52.15 L216.34,58.80 L216.61,80.19 L216.88,110.26 L217.15,140.33 L217.42,161.73 L217.69,168.38 L217.96,168.38 L218.23,168.38 L218.50,161.81 L218.77,140.67 L219.04,110.95 L219.31,81.24 L219.58,60.10 L219.85,53.53 L220.12,53.53 L220.38,53.53 L220.65,60.02 L220.92,80.91 L221.19,110.28 L221.46,139.65 L221.73,160.54 L222.00,167.03 L222.27,167.03 L222.54,167.03 L222.81,160.62 L223.08,139.97 L223.35,110.95 L223.62,81.93 L223.89,61.29 L224.16,54.87 L224.43,54.87 L224.70,54.87 L224.97,61.21 L225.24,81.62 L225.51,110.30 L225.78,138.98 L226.05,159.38 L226.32,165.73 L226.59,165.73 L226.86,165.73 L227.13,159.46 L227.40,139.30 L227.67,110.95 L227.94,82.61 L228.21,62.45 L228.48,56.18 L228.75,56.18 L229.02,56.18 L229.29,62.38 L229.56,82.31 L229.83,110.32 L230.10,138.33 L230.37,158.26 L230.64,164.45 L230.91,164.45 L231.18,164.45 L231.45,158.33 L231.72,138.64 L231.99,110.96 L232.26,83.28 L232.53,63.58 L232.80,57.46 L233.07,57.46 L233.34,57.46 L233.61,63.51 L233.88,82.98 L234.15,110.33 L234.42,137.69 L234.69,157.16 L234.96,163.21 L235.23,163.21 L235.50,163.21 L235.77,157.23 L236.04,137.99 L236.31,110.96 L236.58,83.92 L236.85,64.69 L237.12,58.71 L237.38,58.71 L237.65,58.71 L237.92,64.62 L238.19,83.63 L238.46,110.35 L238.73,137.07 L239.00,156.08 L239.27,161.99 L239.54,161.99 L239.81,161.99 L240.08,156.15 L240.35,137.37 L240.62,110.96 L240.89,84.55 L241.16,65.77 L241.43,59.93 L241.70,59.93 L241.97,59.93 L242.24,65.70 L242.51,84.27 L242.78,110.37 L243.05,136.47 L243.32,155.03 L243.59,160.81 L243.86,160.81 L244.13,160.81 L244.40,155.10 L244.67,136.75 L244.94,110.96 L245.21,85.17 L245.48,66.82 L245.75,61.12 L246.02,61.12 L246.29,61.12 L246.56,66.75 L246.83,84.89 L247.10,110.38 L247.37,135.87 L247.64,154.01 L247.91,159.65 L248.18,159.65 L248.45,159.65 L248.72,154.08 L248.99,136.16 L249.26,110.96 L249.53,85.77 L249.80,67.85 L250.07,62.28 L250.34,62.28 L250.61,62.28 L250.88,67.79 L251.15,85.50 L251.42,110.40 L251.69,135.30 L251.96,153.01 L252.23,158.52 L252.50,158.52 L252.77,158.52 L253.04,153.08 L253.31,135.57 L253.58,110.97 L253.85,86.36 L254.12,68.86 L254.39,63.42 L254.66,63.42 L254.92,63.42 L255.19,68.79 L255.46,86.09 L255.73,110.41 L256.00,134.73 L256.27,152.03 L256.54,157.41 L256.81,157.41 L257.08,157.41 L257.35,152.10 L257.62,135.00 L257.89,110.97 L258.16,86.94 L258.43,69.84 L258.70,64.53 L258.97,64.53 L259.24,64.53 L259.51,69.78 L259.78,86.68 L260.05,110.43 L260.32,134.18 L260.59,151.07 L260.86,156.33 L261.13,156.33 L261.40,156.33 L261.67,151.14 L261.94,134.44 L262.21,110.97 L262.48,87.51 L262.75,70.81 L263.02,65.62 L263.29,65.62 L263.56,65.62 L263.83,70.75 L264.10,87.24 L264.37,110.42 L264.64,133.59 L264.91,150.08 L265.18,155.21 L265.45,155.21 L265.72,155.21 L265.99,150.15 L266.26,133.88 L266.53,111.00 L266.80,88.13 L267.07,71.86 L267.34,66.80 L267.61,66.80 L267.88,66.80 L268.15,71.79 L268.42,87.85 L268.69,110.43 L268.96,133.01 L269.23,149.07 L269.50,154.06 L269.77,154.06 L270.04,154.06 L270.31,149.14 L270.58,133.29 L270.85,111.01 L271.12,88.73 L271.39,72.88 L271.66,67.95 L271.93,67.95 L272.19,67.95 L272.46,72.81 L272.73,88.46 L273.00,110.44 L273.27,132.43 L273.54,148.08 L273.81,152.94 L274.08,152.94 L274.35,152.94 L274.62,148.14 L274.89,132.71 L275.16,111.01 L275.43,89.32 L275.70,73.88 L275.97,69.09 L276.24,69.09 L276.51,69.09 L276.78,73.82 L277.05,89.05 L277.32,110.46 L277.59,131.87 L277.86,147.10 L278.13,151.83 L278.40,151.83 L278.67,151.83 L278.94,147.16 L279.21,132.14 L279.48,111.02 L279.75,89.90 L280.02,74.87 L280.29,70.20 L280.56,70.20 L280.83,70.20 L281.10,74.81 L281.37,89.63 L281.64,110.47 L281.91,131.31 L282.18,146.14 L282.45,150.75 L282.72,150.75 L282.99,150.75 L283.26,146.20 L283.53,131.58 L283.80,111.02 L284.07,90.47 L284.34,75.84 L284.61,71.30 L284.88,71.30 L285.15,71.30 L285.42,75.78 L285.69,90.21 L285.96,110.49 L286.23,130.77 L286.50,145.19 L286.77,149.68 L287.04,149.68 L287.31,149.68 L287.58,145.25 L287.85,131.03 L288.12,111.03 L288.39,91.03 L288.66,76.80 L288.93,72.37 L289.19,72.37 L289.46,72.37 L289.73,76.74 L290.00,90.77 L290.27,110.50 L290.54,130.23 L290.81,144.26 L291.08,148.63 L291.35,148.63 L291.62,148.63 L291.89,144.32 L292.16,130.48 L292.43,111.03 L292.70,91.58 L292.97,77.74 L293.24,73.43 L293.51,73.43 L293.78,73.43 L294.05,77.68 L294.32,91.33 L294.59,110.51 L294.86,129.70 L295.13,143.35 L295.40,147.59 L295.67,147.59 L295.94,147.59 L296.21,143.41 L296.48,129.95 L296.75,111.03 L297.02,92.12 L297.29,78.66 L297.56,74.47 L297.83,74.47 L298.10,74.47 L298.37,78.60 L298.64,91.87 L298.91,110.53 L299.18,129.18 L299.45,142.46 L299.72,146.58 L299.99,146.58 L300.26,146.58 L300.53,142.51 L300.80,129.43 L301.07,111.04 L301.34,92.65 L301.61,79.56 L301.88,75.50 L302.15,75.50 L302.42,75.50 L302.69,79.51 L302.96,92.41 L303.23,110.54 L303.50,128.67 L303.77,141.57 L304.04,145.58 L304.31,145.58 L304.58,145.58 L304.85,141.63 L305.12,128.92 L305.39,111.04 L305.66,93.17 L305.93,80.46 L306.20,76.50 L306.47,76.50 L306.73,76.50 L307.00,80.40 L307.27,92.94 L307.54,110.55 L307.81,128.17 L308.08,140.71 L308.35,144.61 L308.62,144.61 L308.89,144.61 L309.16,140.77 L309.43,128.41 L309.70,111.05 L309.97,93.69 L310.24,81.33 L310.51,77.49 L310.78,77.49 L311.05,77.49 L311.32,81.28 L311.59,93.45 L311.86,110.57 L312.13,127.68 L312.40,139.86 L312.67,143.64 L312.94,143.64 L313.21,143.64 L313.48,139.91 L313.75,127.92 L314.02,111.05 L314.29,94.19 L314.56,82.19 L314.83,78.46 L315.10,78.46 L315.37,78.46 L315.64,82.14 L315.91,93.96 L316.18,110.58 L316.45,127.20 L316.72,139.02 L316.99,142.70 L317.26,142.70 L317.53,142.70 L317.80,139.08 L318.07,127.43 L318.34,111.06 L318.61,94.69 L318.88,83.04 L319.15,79.42 L319.42,79.42 L319.69,79.42 L319.96,82.99 L320.23,94.46 L320.50,110.59 L320.77,126.73 L321.04,138.20 L321.31,141.77 L321.58,141.77 L321.85,141.77 L322.12,138.26 L322.39,126.95 L322.66,111.06 L322.93,95.18 L323.20,83.87 L323.47,80.36 L323.74,80.36 L324.00,80.36 L324.27,83.82 L324.54,94.96 L324.81,110.61 L325.08,126.26 L325.35,137.40 L325.62,140.86 L325.89,140.86 L326.16,140.86 L326.43,137.45 L326.70,126.48 L326.97,111.07 L327.24,95.66 L327.51,84.69 L327.78,81.28 L328.05,81.28 L328.32,81.28 L328.59,84.64 L328.86,95.44 L329.13,110.62 L329.40,125.80 L329.67,136.60 L329.94,139.96 L330.21,139.96 L330.48,139.96 L330.75,136.65 L331.02,126.02 L331.29,111.07 L331.56,96.13 L331.83,85.49 L332.10,82.19 L332.37,82.19 L332.64,82.19 L332.91,85.44 L333.18,95.92 L333.45,110.63 L333.72,125.35 L333.99,135.82 L334.26,139.08 L334.53,139.08 L334.80,139.08 L335.07,135.87 L335.34,125.57 L335.61,111.08 L335.88,96.59 L336.15,86.29 L336.42,83.08 L336.69,83.08 L336.96,83.08 L337.23,86.24 L337.50,96.38 L337.77,110.64 L338.04,124.90 L338.31,135.05 L338.58,138.20 L338.85,138.20 L339.12,138.20 L339.39,135.10 L339.66,125.12 L339.93,111.09 L340.20,97.06 L340.47,87.08 L340.74,83.98 L341.00,83.98 L341.27,83.98 L341.54,87.03 L341.81,96.85 L342.08,110.65 L342.35,124.46 L342.62,134.28 L342.89,137.33 L343.16,137.33 L343.43,137.33 L343.70,134.33 L343.97,124.67 L344.24,111.10 L344.51,97.52 L344.78,87.86 L345.05,84.86 L345.32,84.86 L345.59,84.86 L345.86,87.81 L346.13,97.31 L346.40,110.67 L346.67,124.02 L346.94,133.52 L347.21,136.47 L347.48,136.47 L347.75,136.47 L348.02,133.57 L348.29,124.23 L348.56,111.10 L348.83,97.97 L349.10,88.63 L349.37,85.73 L349.64,85.73 L349.91,85.73 L350.18,88.58 L350.45,97.77 L350.72,110.68 L350.99,123.59 L351.26,132.78 L351.53,135.63 L351.80,135.63 L352.07,135.63 L352.34,132.83 L352.61,123.80 L352.88,111.11 L353.15,98.42 L353.42,89.39 L353.69,86.58 L353.96,86.58 L354.23,86.58 L354.50,89.34 L354.77,98.22 L355.04,110.69 L355.31,123.17 L355.58,132.05 L355.85,134.81 L356.12,134.81 L356.39,134.81 L356.66,132.09 L356.93,123.37 L357.20,111.11 L357.47,98.85 L357.74,90.13 L358.01,87.42 L358.27,87.42 L358.54,87.42 L358.81,90.08 L359.08,98.66 L359.35,110.71 L359.62,122.76 L359.89,131.33 L360.16,133.99 L360.43,133.99 L360.70,133.99 L360.97,131.38 L361.24,122.95 L361.51,111.12 L361.78,99.28 L362.05,90.86 L362.32,88.24 L362.59,88.24 L362.86,88.24 L363.13,90.82 L363.40,99.09 L363.67,110.72 L363.94,122.35 L364.21,130.62 L364.48,133.19 L364.75,133.19 L365.02,133.19 L365.29,130.67 L365.56,122.54 L365.83,111.12 L366.10,99.70 L366.37,91.58 L366.64,89.05 L366.91,89.05 L367.18,89.05 L367.45,91.54 L367.72,99.51 L367.99,110.73 L368.26,121.95 L368.53,129.93 L368.80,132.41 L369.07,132.41 L369.34,132.41 L369.61,129.97 L369.88,122.14 L370.15,111.13 L370.42,100.12 L370.69,92.29 L370.96,89.85 L371.23,89.85 L371.50,89.85 L371.77,92.24 L372.04,99.93 L372.31,110.74 L372.58,121.55 L372.85,129.24 L373.12,131.64 L373.39,131.64 L373.66,131.64 L373.93,129.29 L374.20,121.74 L374.47,111.14 L374.74,100.53 L375.01,92.98 L375.28,90.64 L375.54,90.64 L375.81,90.64 L376.08,92.94 L376.35,100.35 L376.62,110.76 L376.89,121.17 L377.16,128.57 L377.43,130.88 L377.70,130.88 L377.97,130.88 L378.24,128.62 L378.51,121.35 L378.78,111.14 L379.05,100.93 L379.32,93.67 L379.59,91.41 L379.86,91.41 L380.13,91.41 L380.40,93.62 L380.67,100.75 L380.94,110.77 L381.21,120.79 L381.48,127.91 L381.75,130.13 L382.02,130.13 L382.29,130.13 L382.56,127.96 L382.83,120.97 L383.10,111.15 L383.37,101.33 L383.64,94.34 L383.91,92.17 L384.18,92.17 L384.45,92.17 L384.72,94.30 L384.99,101.15 L385.26,110.78 L385.53,120.41 L385.80,127.27 L386.07,129.40 L386.34,129.40 L386.61,129.40 L386.88,127.31 L387.15,120.59 L387.42,111.15 L387.69,101.71 L387.96,95.00 L388.23,92.91 L388.50,92.91 L388.77,92.91 L389.04,94.96 L389.31,101.54 L389.58,110.79 L389.85,120.05 L390.12,126.63 L390.39,128.68 L390.66,128.68 L390.93,128.68 L391.20,126.67 L391.47,120.22 L391.74,111.16 L392.01,102.10 L392.28,95.65 L392.55,93.64 L392.81,93.64 L393.08,93.64 L393.35,95.61 L393.62,101.93 L393.89,110.81 L394.16,119.69 L394.43,126.00 L394.70,127.97 L394.97,127.97 L395.24,127.97 L395.51,126.04 L395.78,119.86 L396.05,111.17 L396.32,102.47 L396.59,96.29 L396.86,94.36 L397.13,94.36 L397.40,94.36 L397.67,96.25 L397.94,102.30 L398.21,110.82 L398.48,119.33 L398.75,125.39 L399.02,127.27 L399.29,127.27 L399.56,127.27 L399.83,125.43 L400.10,119.50 L400.37,111.17 L400.64,102.84 L400.91,96.92 L401.18,95.07 L401.45,95.07 L401.72,95.07 L401.99,96.88 L402.26,102.68 L402.53,110.83 L402.80,118.98 L403.07,124.78 L403.34,126.58 L403.61,126.58 L403.88,126.58 L404.15,124.82 L404.42,119.14 L404.69,111.17 L404.96,103.20 L405.23,97.53 L405.50,95.76 L405.77,95.76 L406.04,95.76 L406.31,97.49 L406.58,103.03 L406.85,110.83 L407.12,118.63 L407.39,124.17 L407.66,125.90 L407.93,125.90 L408.20,125.90 L408.47,124.21 L408.74,118.79 L409.01,111.17 L409.28,103.55 L409.55,98.12 L409.82,96.44 L410.09,96.44 L410.35,96.44 L410.62,98.09 L410.89,103.38 L411.16,110.83 L411.43,118.28 L411.70,123.58 L411.97,125.23 L412.24,125.23 L412.51,125.23 L412.78,123.62 L413.05,118.44 L413.32,111.17 L413.59,103.89 L413.86,98.71 L414.13,97.10 L414.40,97.10 L414.67,97.10 L414.94,98.67 L415.21,103.73 L415.48,110.84 L415.75,117.94 L416.02,123.00 L416.29,124.57 L416.56,124.57 L416.83,124.57 L417.10,123.03 L417.37,118.10 L417.64,111.16 L417.91,104.23 L418.18,99.29 L418.45,97.76 L418.72,97.76 L418.99,97.76 L419.26,99.25 L419.53,104.07 L419.80,110.84 L420.07,117.61 L420.34,122.42 L420.61,123.92 L420.88,123.92 L421.15,123.92 L421.42,122.46 L421.69,117.76 L421.96,111.16 L422.23,104.56 L422.50,99.86 L422.77,98.40 L423.04,98.40 L423.31,98.40 L423.58,99.82 L423.85,104.40 L424.12,110.84 L424.39,117.28 L424.66,121.86 L424.93,123.28 L425.20,123.28 L425.47,123.28 L425.74,121.90 L426.01,117.43 L426.28,111.16 L426.55,104.88 L426.82,100.42 L427.09,99.03 L427.36,99.03 L427.62,99.03 L427.89,100.38 L428.16,104.73 L428.43,110.84 L428.70,116.96 L428.97,121.30 L429.24,122.66 L429.51,122.66 L429.78,122.66 L430.05,121.34 L430.32,117.11 L430.59,111.15 L430.86,105.20 L431.13,100.97 L431.40,99.65 L431.67,99.65 L431.94,99.65 L432.21,100.93 L432.48,105.05 L432.75,110.85 L433.02,116.64 L433.29,120.76 L433.56,122.04 L433.83,122.04 L434.10,122.04 L434.37,120.79 L434.64,116.79 L434.91,111.15 L435.18,105.52 L435.45,101.51 L435.72,100.26 L435.99,100.26 L436.26,100.26 L436.53,101.48 L436.80,105.37 L437.07,110.85 L437.34,116.33 L437.61,120.22 L437.88,121.43 L438.15,121.43 L438.42,121.43 L438.69,120.26 L438.96,116.47 L439.23,111.15 L439.50,105.83 L439.77,102.04 L440.04,100.86 L440.31,100.86 L440.58,100.86 L440.85,102.01 L441.12,105.68 L441.39,110.85 L441.66,116.02 L441.93,119.70 L442.20,120.84 L442.47,120.84 L442.74,120.84 L443.01,119.73 L443.28,116.16 L443.55,111.15 L443.82,106.13 L444.09,102.56 L444.36,101.45 L444.62,101.45 L444.89,101.45 L445.16,102.53 L445.43,105.99 L445.70,110.85 L445.97,115.72 L446.24,119.18 L446.51,120.25 L446.78,120.25 L447.05,120.25 L447.32,119.21 L447.59,115.86 L447.86,111.14 L448.13,106.43 L448.40,103.08 L448.67,102.03 L448.94,102.03 L449.21,102.03 L449.48,103.04 L449.75,106.29 L450.02,110.86 L450.29,115.42 L450.56,118.67 L450.83,119.68 L451.10,119.68 L451.37,119.68 L451.64,118.70 L451.91,115.56 L452.18,111.14 L452.45,106.72 L452.72,103.58 L452.99,102.61 L453.26,102.61 L453.53,102.61 L453.80,103.55 L454.07,106.59 L454.34,110.86 L454.61,115.13 L454.88,118.17 L455.15,119.11 L455.42,119.11 L455.69,119.11 L455.96,118.20 L456.23,115.27 L456.50,111.14 L456.77,107.01 L457.04,104.08 L457.31,103.17 L457.58,103.17 L457.85,103.17 L458.12,104.05 L458.39,106.88 L458.66,110.86 L458.93,114.84 L459.20,117.68 L459.47,118.56 L459.74,118.56 L460.01,118.56 L460.28,117.71 L460.55,114.98 L460.82,111.14 L461.09,107.30 L461.36,104.57 L461.63,103.72 L461.89,103.72 L462.16,103.72 L462.43,104.54 L462.70,107.17 L462.97,110.86 L463.24,114.56 L463.51,117.19 L463.78,118.01 L464.05,118.01 L464.32,118.01 L464.59,117.22 L464.86,114.69 L465.13,111.13 L465.40,107.58 L465.67,105.05 L465.94,104.26 L466.21,104.26 L466.48,104.26 L466.75,105.02 L467.02,107.45 L467.29,110.87 L467.56,114.28 L467.83,116.72 L468.10,117.47 L468.37,117.47 L468.64,117.47 L468.91,116.75 L469.18,114.41 L469.45,111.13 L469.72,107.85 L469.99,105.52 L470.26,104.79 L470.53,104.79 L470.80,104.79 L471.07,105.49 L471.34,107.73 L471.61,110.87 L471.88,114.01 L472.15,116.25 L472.42,116.94 L472.69,116.94 L472.96,116.94 L473.23,116.28 L473.50,114.14 L473.77,111.13 L474.04,108.12 L474.31,105.98 L474.58,105.32 L474.85,105.32 L475.12,105.32 L475.39,105.95 L475.66,108.00 L475.93,110.87 L476.20,113.74 L476.47,115.79 L476.74,116.42 L477.01,116.42 L477.28,116.42 L477.55,115.82 L477.82,113.87 L478.09,111.13 L478.36,108.39 L478.63,106.44 L478.90,105.83 L479.16,105.83 L479.43,105.83 L479.70,106.41 L479.97,108.27 L480.24,110.87 L480.51,113.48 L480.78,115.34 L481.05,115.91 L481.32,115.91 L481.59,115.91 L481.86,115.36 L482.13,113.60 L482.40,111.13 L482.67,108.65 L482.94,106.89 L483.21,106.34 L483.48,106.34 L483.75,106.34 L484.02,106.86 L484.29,108.53 L484.56,110.87 L484.83,113.22 L485.10,114.89 L485.37,115.41 L485.64,115.41 L485.91,115.41 L486.18,114.92 L486.45,113.34 L486.72,111.12 L486.99,108.91 L487.26,107.33 L487.53,106.84 L487.80,106.84 L488.07,106.84 L488.34,107.30 L488.61,108.79 L488.88,110.88 L489.15,112.97 L489.42,114.45 L489.69,114.92 L489.96,114.92 L490.23,114.92 L490.50,114.48 L490.77,113.09 L491.04,111.12 L491.31,109.16 L491.58,107.76 L491.85,107.33 L492.12,107.33 L492.39,107.33 L492.66,107.73 L492.93,109.04 L493.20,110.88 L493.47,112.72 L493.74,114.02 L494.01,114.43 L494.28,114.43 L494.55,114.43 L494.82,114.05 L495.09,112.83 L495.36,111.12 L495.63,109.41 L495.90,108.19 L496.17,107.81 L496.43,107.81 L496.70,107.81 L496.97,108.16 L497.24,109.29 L497.51,110.88 L497.78,112.47 L498.05,113.60 L498.32,113.95 L498.59,113.95 L498.86,113.95 L499.13,113.63 L499.40,112.59 L499.67,111.12 L499.94,109.65 L500.21,108.61 L500.48,108.28 L500.75,108.28 L501.02,108.28 L501.29,108.58 L501.56,109.54 L501.83,110.88 L502.10,112.23 L502.37,113.19 L502.64,113.48 L502.91,113.48 L503.18,113.48 L503.45,113.21 L503.72,112.34 L503.99,111.12 L504.26,109.89 L504.53,109.02 L504.80,108.75 L505.07,108.75 L505.34,108.75 L505.61,108.99 L505.88,109.78 L506.15,110.89 L506.42,111.99 L506.69,112.78 L506.96,113.02 L507.23,113.02 L507.50,113.02 L507.77,112.80 L508.04,112.10 L508.31,111.11 L508.58,110.13 L508.85,109.42 L509.12,109.20 L509.39,109.20 L509.66,109.20 L509.93,109.39 L510.20,109.98 L510.47,110.82 L510.74,111.65 L511.01,112.25 L511.28,112.43 L511.55,112.43 L511.82,112.43 L512.09,112.29 L512.36,111.83 L512.63,111.18 L512.90,110.53 L513.17,110.07 L513.44,109.93 L513.71,109.93 L513.97,109.93 L514.24,110.03 L514.51,110.36 L514.78,110.82 L515.05,111.28 L515.32,111.61 L515.59,111.71 L515.86,111.71 L516.13,111.71 L516.40,111.65 L516.67,111.45 L516.94,111.17 L517.21,110.90 L517.48,110.70 L517.75,110.64 L518.02,110.64 L518.29,110.64 L518.56,110.67 L518.83,110.78 L519.10,110.93 L519.37,111.08 L519.64,111.19 L519.91,111.22 L520.18,111.22 L520.45,111.22 L520.72,111.20 L520.99,111.15 L521.26,111.07 L521.53,110.99 L521.80,110.93 L522.07,110.92 L522.34,110.92 L522.61,110.92 L522.88,110.92 L523.15,110.94 L523.42,110.96 L523.69,110.98 L523.96,111.00 L524.23,111.00 L524.50,111.00 L526.00,111.00 L540.80,111.00"/>
<path transform="translate(0,0.30)" stroke="#008000" d="M56.00,111.00 L122.80,111.00 L123.53,115.30 L124.26,119.60 L124.99,123.90 L125.72,128.20 L126.45,132.50 L127.18,136.80 L127.91,141.09 L128.64,145.39 L129.37,151.47 L130.10,153.99 L130.47,153.80 L130.85,147.15 L131.22,132.52 L131.60,113.37 L131.97,94.22 L132.35,79.60 L132.72,72.95 L133.10,72.75 L133.42,72.79 L133.75,80.45 L134.07,99.47 L134.40,125.00 L134.72,150.52 L135.05,169.54 L135.38,177.20 L135.70,177.24 L135.99,177.24 L136.29,168.48 L136.58,143.84 L136.88,110.01 L137.17,76.18 L137.46,51.53 L137.76,42.78 L138.05,42.78 L138.30,42.78 L138.56,49.87 L138.81,75.74 L139.06,112.92 L139.31,150.09 L139.56,175.96 L139.82,183.06 L140.07,183.06 L140.36,183.06 L140.65,173.74 L140.94,147.21 L141.24,110.70 L141.53,74.19 L141.82,47.66 L142.11,38.35 L142.40,38.35 L142.67,38.35 L142.94,46.55 L143.21,72.94 L143.48,110.04 L143.75,147.14 L144.02,173.53 L144.29,181.73 L144.56,181.73 L144.83,181.73 L145.10,173.62 L145.37,147.54 L145.64,110.87 L145.91,74.20 L146.18,48.11 L146.45,40.00 L146.72,40.00 L146.99,40.00 L147.26,48.02 L147.53,73.81 L147.80,110.06 L148.07,146.31 L148.34,172.10 L148.61,180.11 L148.88,180.11 L149.15,180.11 L149.42,172.19 L149.69,146.70 L149.96,110.87 L150.23,75.04 L150.50,49.55 L150.77,41.62 L151.03,41.62 L151.30,41.62 L151.57,49.46 L151.84,74.65 L152.11,110.07 L152.38,145.49 L152.65,170.69 L152.92,178.52 L153.19,178.52 L153.46,178.52 L153.73,170.78 L154.00,145.88 L154.27,110.87 L154.54,75.86 L154.81,50.96 L155.08,43.22 L155.35,43.22 L155.62,43.22 L155.89,50.87 L156.16,75.49 L156.43,110.09 L156.70,144.69 L156.97,169.31 L157.24,176.96 L157.51,176.96 L157.78,176.96 L158.05,169.40 L158.32,145.07 L158.59,110.87 L158.86,76.68 L159.13,52.35 L159.40,44.78 L159.67,44.78 L159.94,44.78 L160.21,52.26 L160.48,76.31 L160.75,110.11 L161.02,143.90 L161.29,167.95 L161.56,175.43 L161.83,175.43 L162.10,175.43 L162.37,168.04 L162.64,144.28 L162.91,110.87 L163.18,77.47 L163.45,53.71 L163.72,46.32 L163.99,46.32 L164.26,46.32 L164.53,53.62 L164.80,77.11 L165.07,110.12 L165.34,143.13 L165.61,166.62 L165.88,173.92 L166.15,173.92 L166.42,173.92 L166.69,166.71 L166.96,143.50 L167.23,110.88 L167.50,78.25 L167.77,55.04 L168.04,47.83 L168.31,47.83 L168.57,47.83 L168.84,54.96 L169.11,77.90 L169.38,110.14 L169.65,142.38 L169.92,165.32 L170.19,172.45 L170.46,172.45 L170.73,172.45 L171.00,165.40 L171.27,142.74 L171.54,110.88 L171.81,79.02 L172.08,56.35 L172.35,49.31 L172.62,49.31 L172.89,49.31 L173.16,56.27 L173.43,78.67 L173.70,110.16 L173.97,141.64 L174.24,164.04 L174.51,171.00 L174.78,171.00 L175.05,171.00 L175.32,164.12 L175.59,141.99 L175.86,110.88 L176.13,79.77 L176.40,57.63 L176.67,50.75 L176.94,50.75 L177.21,50.75 L177.48,57.55 L177.75,79.43 L178.02,110.17 L178.29,140.92 L178.56,162.79 L178.83,169.59 L179.10,169.59 L179.37,169.59 L179.64,162.87 L179.91,141.26 L180.18,110.88 L180.45,80.50 L180.72,58.89 L180.99,52.17 L181.26,52.17 L181.53,52.17 L181.80,58.81 L182.07,80.17 L182.34,110.19 L182.61,140.21 L182.88,161.57 L183.15,168.21 L183.42,168.21 L183.69,168.21 L183.96,161.65 L184.23,140.55 L184.50,110.88 L184.77,81.22 L185.04,60.11 L185.31,53.55 L185.57,53.55 L185.84,53.55 L186.11,60.04 L186.38,80.89 L186.65,110.21 L186.92,139.52 L187.19,160.38 L187.46,166.86 L187.73,166.86 L188.00,166.86 L188.27,160.45 L188.54,139.85 L188.81,110.88 L189.08,81.92 L189.35,61.31 L189.62,54.91 L189.89,54.91 L190.16,54.91 L190.43,61.24 L190.70,81.60 L190.97,110.22 L191.24,138.85 L191.51,159.21 L191.78,165.54 L192.05,165.54 L192.32,165.54 L192.59,159.29 L192.86,139.17 L193.13,110.88 L193.40,82.60 L193.67,62.48 L193.94,56.23 L194.21,56.23 L194.48,56.23 L194.75,62.41 L195.02,82.29 L195.29,110.24 L195.56,138.19 L195.83,158.07 L196.10,164.25 L196.37,164.25 L196.64,164.25 L196.91,158.15 L197.18,138.50 L197.45,110.89 L197.72,83.27 L197.99,63.62 L198.26,57.52 L198.53,57.52 L198.80,57.52 L199.07,63.55 L199.34,82.97 L199.61,110.26 L199.88,137.55 L200.15,156.96 L200.42,163.00 L200.69,163.00 L200.96,163.00 L201.23,157.03 L201.50,137.85 L201.77,110.89 L202.04,83.92 L202.31,64.74 L202.58,58.78 L202.84,58.78 L203.11,58.78 L203.38,64.67 L203.65,83.63 L203.92,110.27 L204.19,136.92 L204.46,155.88 L204.73,161.77 L205.00,161.77 L205.27,161.77 L205.54,155.95 L205.81,137.22 L206.08,110.89 L206.35,84.56 L206.62,65.83 L206.89,60.00 L207.16,60.00 L207.43,60.00 L207.70,65.76 L207.97,84.27 L208.24,110.29 L208.51,136.31 L208.78,154.82 L209.05,160.58 L209.32,160.58 L209.59,160.58 L209.86,154.89 L210.13,136.60 L210.40,110.89 L210.67,85.18 L210.94,66.89 L211.21,61.20 L211.48,61.20 L211.75,61.20 L212.02,66.82 L212.29,84.90 L212.56,110.31 L212.83,135.72 L213.10,153.79 L213.37,159.41 L213.64,159.41 L213.91,159.41 L214.18,153.86 L214.45,136.00 L214.72,110.89 L214.99,85.79 L215.26,67.92 L215.53,62.37 L215.80,62.37 L216.07,62.37 L216.34,67.86 L216.61,85.51 L216.88,110.32 L217.15,135.14 L217.42,152.79 L217.69,158.28 L217.96,158.28 L218.23,158.28 L218.50,152.85 L218.77,135.41 L219.04,110.89 L219.31,86.38 L219.58,68.93 L219.85,63.51 L220.12,63.51 L220.38,63.51 L220.65,68.87 L220.92,86.11 L221.19,110.34 L221.46,134.57 L221.73,151.81 L222.00,157.17 L222.27,157.17 L222.54,157.17 L222.81,151.87 L223.08,134.84 L223.35,110.90 L223.62,86.95 L223.89,69.92 L224.16,64.62 L224.43,64.62 L224.70,64.62 L224.97,69.85 L225.24,86.69 L225.51,110.36 L225.78,134.02 L226.05,150.86 L226.32,156.09 L226.59,156.09 L226.86,156.09 L227.13,150.92 L227.40,134.28 L227.67,110.90 L227.94,87.51 L228.21,70.88 L228.48,65.70 L228.75,65.70 L229.02,65.70 L229.29,70.82 L229.56,87.26 L229.83,110.37 L230.10,133.49 L230.37,149.93 L230.64,155.04 L230.91,155.04 L231.18,155.04 L231.45,149.99 L231.72,133.74 L231.99,110.90 L232.26,88.06 L232.53,71.81 L232.80,66.76 L233.07,66.76 L233.34,66.76 L233.61,71.75 L233.88,87.81 L234.15,110.39 L234.42,132.96 L234.69,149.02 L234.96,154.01 L235.23,154.01 L235.50,154.01 L235.77,149.08 L236.04,133.21 L236.31,110.90 L236.58,88.60 L236.85,72.73 L237.12,67.79 L237.38,67.79 L237.65,67.79 L237.92,72.67 L238.19,88.35 L238.46,110.40 L238.73,132.45 L239.00,148.14 L239.27,153.01 L239.54,153.01 L239.81,153.01 L240.08,148.20 L240.35,132.69 L240.62,110.91 L240.89,89.12 L241.16,73.62 L241.43,68.80 L241.70,68.80 L241.97,68.80 L242.24,73.56 L242.51,88.88 L242.78,110.42 L243.05,131.95 L243.32,147.28 L243.59,152.04 L243.86,152.04 L244.13,152.04 L244.40,147.33 L244.67,132.19 L244.94,110.91 L245.21,89.63 L245.48,74.49 L245.75,69.78 L246.02,69.78 L246.29,69.78 L246.56,74.43 L246.83,89.40 L247.10,110.43 L247.37,131.47 L247.64,146.43 L247.91,151.08 L248.18,151.08 L248.45,151.08 L248.72,146.49 L248.99,131.70 L249.26,110.91 L249.53,90.13 L249.80,75.34 L250.07,70.74 L250.34,70.74 L250.61,70.74 L250.88,75.29 L251.15,89.90 L251.42,110.45 L251.69,130.99 L251.96,145.61 L252.23,150.15 L252.50,150.15 L252.77,150.15 L253.04,145.66 L253.31,131.22 L253.58,110.92 L253.85,90.62 L254.12,76.17 L254.39,71.68 L254.66,71.68 L254.92,71.68 L255.19,76.12 L255.46,90.40 L255.73,110.46 L256.00,130.53 L256.27,144.80 L256.54,149.24 L256.81,149.24 L257.08,149.24 L257.35,144.86 L257.62,130.75 L257.89,110.92 L258.16,91.09 L258.43,76.99 L258.70,72.60 L258.97,72.60 L259.24,72.60 L259.51,76.94 L259.78,90.88 L260.05,110.48 L260.32,130.07 L260.59,144.01 L260.86,148.35 L261.13,148.35 L261.40,148.35 L261.67,144.07 L261.94,130.29 L262.21,110.93 L262.48,91.56 L262.75,77.79 L263.02,73.51 L263.29,73.51 L263.56,73.51 L263.83,77.74 L264.10,91.34 L264.37,110.47 L264.64,129.59 L264.91,143.20 L265.18,147.43 L265.45,147.43 L265.72,147.43 L265.99,143.26 L266.26,129.83 L266.53,110.95 L266.80,92.08 L267.07,78.65 L267.34,74.48 L267.61,74.48 L267.88,74.48 L268.15,78.60 L268.42,91.85 L268.69,110.48 L268.96,129.11 L269.23,142.37 L269.50,146.49 L269.77,146.49 L270.04,146.49 L270.31,142.42 L270.58,129.34 L270.85,110.96 L271.12,92.57 L271.39,79.50 L271.66,75.43 L271.93,75.43 L272.19,75.43 L272.46,79.44 L272.73,92.35 L273.00,110.49 L273.27,128.64 L273.54,141.55 L273.81,145.56 L274.08,145.56 L274.35,145.56 L274.62,141.60 L274.89,128.86 L275.16,110.96 L275.43,93.06 L275.70,80.33 L275.97,76.37 L276.24,76.37 L276.51,76.37 L276.78,80.27 L277.05,92.84 L277.32,110.51 L277.59,128.17 L277.86,140.74 L278.13,144.65 L278.40,144.65 L278.67,144.65 L278.94,140.79 L279.21,128.39 L279.48,110.97 L279.75,93.54 L280.02,81.14 L280.29,77.29 L280.56,77.29 L280.83,77.29 L281.10,81.09 L281.37,93.33 L281.64,110.52 L281.91,127.72 L282.18,139.95 L282.45,143.75 L282.72,143.75 L282.99,143.75 L283.26,140.00 L283.53,127.93 L283.80,110.97 L284.07,94.01 L284.34,81.95 L284.61,78.20 L284.88,78.20 L285.15,78.20 L285.42,81.90 L285.69,93.80 L285.96,110.53 L286.23,127.27 L286.50,139.17 L286.77,142.87 L287.04,142.87 L287.31,142.87 L287.58,139.22 L287.85,127.48 L288.12,110.98 L288.39,94.48 L288.66,82.74 L288.93,79.09 L289.19,79.09 L289.46,79.09 L289.73,82.69 L290.00,94.27 L290.27,110.55 L290.54,126.82 L290.81,138.41 L291.08,142.01 L291.35,142.01 L291.62,142.01 L291.89,138.46 L292.16,127.04 L292.43,110.98 L292.70,94.93 L292.97,83.51 L293.24,79.96 L293.51,79.96 L293.78,79.96 L294.05,83.46 L294.32,94.73 L294.59,110.56 L294.86,126.39 L295.13,137.66 L295.40,141.16 L295.67,141.16 L295.94,141.16 L296.21,137.70 L296.48,126.60 L296.75,110.99 L297.02,95.38 L297.29,84.27 L297.56,80.82 L297.83,80.82 L298.10,80.82 L298.37,84.23 L298.64,95.18 L298.91,110.57 L299.18,125.97 L299.45,136.92 L299.72,140.32 L299.99,140.32 L300.26,140.32 L300.53,136.97 L300.80,126.17 L301.07,111.00 L301.34,95.82 L301.61,85.02 L301.88,81.67 L302.15,81.67 L302.42,81.67 L302.69,84.98 L302.96,95.62 L303.23,110.58 L303.50,125.55 L303.77,136.19 L304.04,139.50 L304.31,139.50 L304.58,139.50 L304.85,136.24 L305.12,125.75 L305.39,111.00 L305.66,96.25 L305.93,85.76 L306.20,82.50 L306.47,82.50 L306.73,82.50 L307.00,85.72 L307.27,96.06 L307.54,110.60 L307.81,125.14 L308.08,135.48 L308.35,138.69 L308.62,138.69 L308.89,138.69 L309.16,135.53 L309.43,125.33 L309.70,111.01 L309.97,96.68 L310.24,86.49 L310.51,83.32 L310.78,83.32 L311.05,83.32 L311.32,86.44 L311.59,96.49 L311.86,110.61 L312.13,124.73 L312.40,134.78 L312.67,137.90 L312.94,137.90 L313.21,137.90 L313.48,134.83 L313.75,124.93 L314.02,111.01 L314.29,97.10 L314.56,87.20 L314.83,84.12 L315.10,84.12 L315.37,84.12 L315.64,87.15 L315.91,96.91 L316.18,110.62 L316.45,124.34 L316.72,134.09 L316.99,137.12 L317.26,137.12 L317.53,137.12 L317.80,134.14 L318.07,124.53 L318.34,111.02 L318.61,97.51 L318.88,87.90 L319.15,84.91 L319.42,84.91 L319.69,84.91 L319.96,87.86 L320.23,97.32 L320.50,110.64 L320.77,123.95 L321.04,133.42 L321.31,136.36 L321.58,136.36 L321.85,136.36 L322.12,133.46 L322.39,124.13 L322.66,111.02 L322.93,97.91 L323.20,88.59 L323.47,85.69 L323.74,85.69 L324.00,85.69 L324.27,88.54 L324.54,97.73 L324.81,110.65 L325.08,123.56 L325.35,132.75 L325.62,135.61 L325.89,135.61 L326.16,135.61 L326.43,132.80 L326.70,123.75 L326.97,111.03 L327.24,98.31 L327.51,89.26 L327.78,86.45 L328.05,86.45 L328.32,86.45 L328.59,89.22 L328.86,98.13 L329.13,110.66 L329.40,123.19 L329.67,132.10 L329.94,134.87 L330.21,134.87 L330.48,134.87 L330.75,132.14 L331.02,123.37 L331.29,111.04 L331.56,98.70 L331.83,89.93 L332.10,87.20 L332.37,87.20 L332.64,87.20 L332.91,89.89 L333.18,98.53 L333.45,110.67 L333.72,122.82 L333.99,131.46 L334.26,134.14 L334.53,134.14 L334.80,134.14 L335.07,131.50 L335.34,123.00 L335.61,111.04 L335.88,99.09 L336.15,90.58 L336.42,87.94 L336.69,87.94 L336.96,87.94 L337.23,90.54 L337.50,98.91 L337.77,110.68 L338.04,122.45 L338.31,130.82 L338.58,133.42 L338.85,133.42 L339.12,133.42 L339.39,130.86 L339.66,122.63 L339.93,111.05 L340.20,99.48 L340.47,91.24 L340.74,88.68 L341.00,88.68 L341.27,88.68 L341.54,91.20 L341.81,99.30 L342.08,110.69 L342.35,122.08 L342.62,130.19 L342.89,132.71 L343.16,132.71 L343.43,132.71 L343.70,130.23 L343.97,122.26 L344.24,111.06 L344.51,99.86 L344.78,91.89 L345.05,89.41 L345.32,89.41 L345.59,89.41 L345.86,91.85 L346.13,99.69 L346.40,110.71 L346.67,121.72 L346.94,129.56 L347.21,132.00 L347.48,132.00 L347.75,132.00 L348.02,129.60 L348.29,121.90 L348.56,111.06 L348.83,100.23 L349.10,92.52 L349.37,90.13 L349.64,90.13 L349.91,90.13 L350.18,92.48 L350.45,100.06 L350.72,110.72 L350.99,121.37 L351.26,128.95 L351.53,131.31 L351.80,131.31 L352.07,131.31 L352.34,128.99 L352.61,121.54 L352.88,111.07 L353.15,100.60 L353.42,93.15 L353.69,90.83 L353.96,90.83 L354.23,90.83 L354.50,93.11 L354.77,100.43 L355.04,110.73 L355.31,121.02 L355.58,128.35 L355.85,130.63 L356.12,130.63 L356.39,130.63 L356.66,128.39 L356.93,121.19 L357.20,111.08 L357.47,100.96 L357.74,93.76 L358.01,91.53 L358.27,91.53 L358.54,91.53 L358.81,93.73 L359.08,100.80 L359.35,110.74 L359.62,120.68 L359.89,127.76 L360.16,129.96 L360.43,129.96 L360.70,129.96 L360.97,127.80 L361.24,120.85 L361.51,111.08 L361.78,101.32 L362.05,94.37 L362.32,92.21 L362.59,92.21 L362.86,92.21 L363.13,94.33 L363.40,101.16 L363.67,110.75 L363.94,120.35 L364.21,127.18 L364.48,129.30 L364.75,129.30 L365.02,129.30 L365.29,127.22 L365.56,120.51 L365.83,111.09 L366.10,101.67 L366.37,94.96 L366.64,92.88 L366.91,92.88 L367.18,92.88 L367.45,94.93 L367.72,101.51 L367.99,110.77 L368.26,120.02 L368.53,126.61 L368.80,128.65 L369.07,128.65 L369.34,128.65 L369.61,126.64 L369.88,120.18 L370.15,111.10 L370.42,102.01 L370.69,95.55 L370.96,93.54 L371.23,93.54 L371.50,93.54 L371.77,95.51 L372.04,101.86 L372.31,110.78 L372.58,119.70 L372.85,126.04 L373.12,128.02 L373.39,128.02 L373.66,128.02 L373.93,126.08 L374.20,119.85 L374.47,111.10 L374.74,102.35 L375.01,96.12 L375.28,94.19 L375.54,94.19 L375.81,94.19 L376.08,96.09 L376.35,102.20 L376.62,110.79 L376.89,119.38 L377.16,125.49 L377.43,127.39 L377.70,127.39 L377.97,127.39 L378.24,125.53 L378.51,119.53 L378.78,111.11 L379.05,102.68 L379.32,96.69 L379.59,94.83 L379.86,94.83 L380.13,94.83 L380.40,96.65 L380.67,102.53 L380.94,110.80 L381.21,119.07 L381.48,124.95 L381.75,126.78 L382.02,126.78 L382.29,126.78 L382.56,124.99 L382.83,119.22 L383.10,111.11 L383.37,103.01 L383.64,97.24 L383.91,95.45 L384.18,95.45 L384.45,95.45 L384.72,97.21 L384.99,102.86 L385.26,110.81 L385.53,118.76 L385.80,124.42 L386.07,126.17 L386.34,126.17 L386.61,126.17 L386.88,124.45 L387.15,118.91 L387.42,111.12 L387.69,103.33 L387.96,97.79 L388.23,96.07 L388.50,96.07 L388.77,96.07 L389.04,97.76 L389.31,103.19 L389.58,110.82 L389.85,118.46 L390.12,123.89 L390.39,125.58 L390.66,125.58 L390.93,125.58 L391.20,123.93 L391.47,118.61 L391.74,111.13 L392.01,103.65 L392.28,98.33 L392.55,96.68 L392.81,96.68 L393.08,96.68 L393.35,98.30 L393.62,103.51 L393.89,110.84 L394.16,118.16 L394.43,123.38 L394.70,125.00 L394.97,125.00 L395.24,125.00 L395.51,123.41 L395.78,118.31 L396.05,111.13 L396.32,103.96 L396.59,98.86 L396.86,97.27 L397.13,97.27 L397.40,97.27 L397.67,98.83 L397.94,103.82 L398.21,110.85 L398.48,117.87 L398.75,122.87 L399.02,124.42 L399.29,124.42 L399.56,124.42 L399.83,122.90 L400.10,118.01 L400.37,111.14 L400.64,104.27 L400.91,99.38 L401.18,97.86 L401.45,97.86 L401.72,97.86 L401.99,99.35 L402.26,104.13 L402.53,110.86 L402.80,117.58 L403.07,122.37 L403.34,123.86 L403.61,123.86 L403.88,123.86 L404.15,122.40 L404.42,117.72 L404.69,111.14 L404.96,104.56 L405.23,99.88 L405.50,98.43 L405.77,98.43 L406.04,98.43 L406.31,99.85 L406.58,104.43 L406.85,110.86 L407.12,117.29 L407.39,121.87 L407.66,123.29 L407.93,123.29 L408.20,123.29 L408.47,121.90 L408.74,117.43 L409.01,111.14 L409.28,104.85 L409.55,100.38 L409.82,98.98 L410.09,98.98 L410.35,98.98 L410.62,100.34 L410.89,104.72 L411.16,110.86 L411.43,117.01 L411.70,121.38 L411.97,122.74 L412.24,122.74 L412.51,122.74 L412.78,121.41 L413.05,117.14 L413.32,111.14 L413.59,105.13 L413.86,100.86 L414.13,99.53 L414.40,99.53 L414.67,99.53 L414.94,100.83 L415.21,105.00 L415.48,110.86 L415.75,116.73 L416.02,120.90 L416.29,122.20 L416.56,122.20 L416.83,122.20 L417.10,120.93 L417.37,116.86 L417.64,111.13 L417.91,105.41 L418.18,101.34 L418.45,100.07 L418.72,100.07 L418.99,100.07 L419.26,101.31 L419.53,105.28 L419.80,110.87 L420.07,116.45 L420.34,120.43 L420.61,121.66 L420.88,121.66 L421.15,121.66 L421.42,120.46 L421.69,116.58 L421.96,111.13 L422.23,105.68 L422.50,101.81 L422.77,100.60 L423.04,100.60 L423.31,100.60 L423.58,101.78 L423.85,105.56 L424.12,110.87 L424.39,116.18 L424.66,119.96 L424.93,121.14 L425.20,121.14 L425.47,121.14 L425.74,119.99 L426.01,116.31 L426.28,111.13 L426.55,105.95 L426.82,102.27 L427.09,101.12 L427.36,101.12 L427.62,101.12 L427.89,102.24 L428.16,105.83 L428.43,110.87 L428.70,115.91 L428.97,119.50 L429.24,120.62 L429.51,120.62 L429.78,120.62 L430.05,119.53 L430.32,116.04 L430.59,111.13 L430.86,106.22 L431.13,102.72 L431.40,101.64 L431.67,101.64 L431.94,101.64 L432.21,102.69 L432.48,106.09 L432.75,110.87 L433.02,115.65 L433.29,119.05 L433.56,120.11 L433.83,120.11 L434.10,120.11 L434.37,119.08 L434.64,115.77 L434.91,111.13 L435.18,106.48 L435.45,103.17 L435.72,102.14 L435.99,102.14 L436.26,102.14 L436.53,103.14 L436.80,106.36 L437.07,110.88 L437.34,115.40 L437.61,118.61 L437.88,119.61 L438.15,119.61 L438.42,119.61 L438.69,118.64 L438.96,115.51 L439.23,111.12 L439.50,106.73 L439.77,103.61 L440.04,102.64 L440.31,102.64 L440.58,102.64 L440.85,103.58 L441.12,106.61 L441.39,110.88 L441.66,115.14 L441.93,118.18 L442.20,119.12 L442.47,119.12 L442.74,119.12 L443.01,118.20 L443.28,115.26 L443.55,111.12 L443.82,106.98 L444.09,104.04 L444.36,103.12 L444.62,103.12 L444.89,103.12 L445.16,104.01 L445.43,106.87 L445.70,110.88 L445.97,114.89 L446.24,117.75 L446.51,118.64 L446.78,118.64 L447.05,118.64 L447.32,117.78 L447.59,115.01 L447.86,111.12 L448.13,107.23 L448.40,104.46 L448.67,103.60 L448.94,103.60 L449.21,103.60 L449.48,104.44 L449.75,107.12 L450.02,110.88 L450.29,114.65 L450.56,117.33 L450.83,118.16 L451.10,118.16 L451.37,118.16 L451.64,117.35 L451.91,114.76 L452.18,111.12 L452.45,107.47 L452.72,104.88 L452.99,104.07 L453.26,104.07 L453.53,104.07 L453.80,104.85 L454.07,107.36 L454.34,110.88 L454.61,114.41 L454.88,116.91 L455.15,117.69 L455.42,117.69 L455.69,117.69 L455.96,116.94 L456.23,114.52 L456.50,111.12 L456.77,107.71 L457.04,105.29 L457.31,104.54 L457.58,104.54 L457.85,104.54 L458.12,105.26 L458.39,107.60 L458.66,110.89 L458.93,114.17 L459.20,116.51 L459.47,117.24 L459.74,117.24 L460.01,117.24 L460.28,116.53 L460.55,114.28 L460.82,111.11 L461.09,107.95 L461.36,105.69 L461.63,104.99 L461.89,104.99 L462.16,104.99 L462.43,105.67 L462.70,107.84 L462.97,110.89 L463.24,113.94 L463.51,116.11 L463.78,116.78 L464.05,116.78 L464.32,116.78 L464.59,116.13 L464.86,114.05 L465.13,111.11 L465.40,108.18 L465.67,106.09 L465.94,105.44 L466.21,105.44 L466.48,105.44 L466.75,106.06 L467.02,108.07 L467.29,110.89 L467.56,113.71 L467.83,115.72 L468.10,116.34 L468.37,116.34 L468.64,116.34 L468.91,115.74 L469.18,113.82 L469.45,111.11 L469.72,108.40 L469.99,106.48 L470.26,105.88 L470.53,105.88 L470.80,105.88 L471.07,106.45 L471.34,108.30 L471.61,110.89 L471.88,113.49 L472.15,115.33 L472.42,115.90 L472.69,115.90 L472.96,115.90 L473.23,115.36 L473.50,113.59 L473.77,111.11 L474.04,108.63 L474.31,106.86 L474.58,106.31 L474.85,106.31 L475.12,106.31 L475.39,106.84 L475.66,108.52 L475.93,110.89 L476.20,113.26 L476.47,114.95 L476.74,115.48 L477.01,115.48 L477.28,115.48 L477.55,114.98 L477.82,113.37 L478.09,111.11 L478.36,108.84 L478.63,107.24 L478.90,106.74 L479.16,106.74 L479.43,106.74 L479.70,107.21 L479.97,108.74 L480.24,110.90 L480.51,113.05 L480.78,114.58 L481.05,115.05 L481.32,115.05 L481.59,115.05 L481.86,114.60 L482.13,113.15 L482.40,111.10 L482.67,109.06 L482.94,107.61 L483.21,107.15 L483.48,107.15 L483.75,107.15 L484.02,107.58 L484.29,108.96 L484.56,110.90 L484.83,112.83 L485.10,114.21 L485.37,114.64 L485.64,114.64 L485.91,114.64 L486.18,114.23 L486.45,112.93 L486.72,111.10 L486.99,109.27 L487.26,107.97 L487.53,107.57 L487.80,107.57 L488.07,107.57 L488.34,107.95 L488.61,109.17 L488.88,110.90 L489.15,112.62 L489.42,113.85 L489.69,114.23 L489.96,114.23 L490.23,114.23 L490.50,113.87 L490.77,112.72 L491.04,111.10 L491.31,109.48 L491.58,108.33 L491.85,107.97 L492.12,107.97 L492.39,107.97 L492.66,108.30 L492.93,109.38 L493.20,110.90 L493.47,112.42 L493.74,113.50 L494.01,113.83 L494.28,113.83 L494.55,113.83 L494.82,113.52 L495.09,112.51 L495.36,111.10 L495.63,109.69 L495.90,108.68 L496.17,108.37 L496.43,108.37 L496.70,108.37 L496.97,108.66 L497.24,109.59 L497.51,110.90 L497.78,112.21 L498.05,113.15 L498.32,113.44 L498.59,113.44 L498.86,113.44 L499.13,113.17 L499.40,112.31 L499.67,111.10 L499.94,109.89 L500.21,109.03 L500.48,108.76 L500.75,108.76 L501.02,108.76 L501.29,109.00 L501.56,109.79 L501.83,110.90 L502.10,112.01 L502.37,112.80 L502.64,113.05 L502.91,113.05 L503.18,113.05 L503.45,112.83 L503.72,112.11 L503.99,111.10 L504.26,110.08 L504.53,109.36 L504.80,109.14 L505.07,109.14 L505.34,109.14 L505.61,109.34 L505.88,109.99 L506.15,110.91 L506.42,111.82 L506.69,112.47 L506.96,112.67 L507.23,112.67 L507.50,112.67 L507.77,112.49 L508.04,111.91 L508.31,111.09 L508.58,110.28 L508.85,109.70 L509.12,109.52 L509.39,109.52 L509.66,109.52 L509.93,109.67 L510.20,110.16 L510.47,110.85 L510.74,111.54 L511.01,112.03 L511.28,112.18 L511.55,112.18 L511.82,112.18 L512.09,112.06 L512.36,111.68 L512.63,111.15 L512.90,110.62 L513.17,110.24 L513.44,110.12 L513.71,110.12 L513.97,110.12 L514.24,110.20 L514.51,110.47 L514.78,110.85 L515.05,111.23 L515.32,111.50 L515.59,111.58 L515.86,111.58 L516.13,111.58 L516.40,111.53 L516.67,111.37 L516.94,111.14 L517.21,110.92 L517.48,110.75 L517.75,110.70 L518.02,110.70 L518.29,110.70 L518.56,110.73 L518.83,110.82 L519.10,110.94 L519.37,111.07 L519.64,111.16 L519.91,111.18 L520.18,111.18 L520.45,111.18 L520.72,111.17 L520.99,111.12 L521.26,111.06 L521.53,110.99 L521.80,110.95 L522.07,110.93 L522.34,110.93 L522.61,110.93 L522.88,110.94 L523.15,110.95 L523.42,110.97 L523.69,110.98 L523.96,111.00 L524.23,111.00 L524.50,111.00 L526.00,111.00 L540.80,111.00"/>
<path transform="translate(0,0.30)" stroke="#ff00ff" d="M56.00,111.00 L122.80,111.00 L123.53,113.81 L124.26,116.62 L124.99,119.43 L125.72,122.24 L126.45,125.05 L127.18,127.86 L127.91,130.68 L128.64,133.49 L129.37,137.46 L130.10,139.11 L130.47,138.97 L130.85,134.42 L131.22,124.41 L131.60,111.30 L131.97,98.20 L132.35,88.19 L132.72,83.63 L133.10,83.50 L133.42,83.53 L133.75,89.01 L134.07,102.61 L134.40,120.87 L134.72,139.13 L135.05,152.73 L135.38,158.21 L135.70,158.24 L135.99,158.24 L136.29,151.97 L136.58,134.35 L136.88,110.15 L137.17,85.95 L137.46,68.33 L137.76,62.06 L138.05,62.06 L138.30,62.06 L138.56,67.13 L138.81,85.64 L139.06,112.23 L139.31,138.82 L139.56,157.32 L139.82,162.39 L140.07,162.39 L140.36,162.39 L140.65,155.73 L140.94,136.75 L141.24,110.64 L141.53,84.52 L141.82,65.54 L142.11,58.88 L142.40,58.88 L142.67,58.88 L142.94,64.75 L143.21,83.62 L143.48,110.16 L143.75,136.69 L144.02,155.57 L144.29,161.43 L144.56,161.43 L144.83,161.43 L145.10,155.63 L145.37,136.98 L145.64,110.75 L145.91,84.52 L146.18,65.86 L146.45,60.06 L146.72,60.06 L146.99,60.06 L147.26,65.80 L147.53,84.24 L147.80,110.17 L148.07,136.10 L148.34,154.55 L148.61,160.28 L148.88,160.28 L149.15,160.28 L149.42,154.61 L149.69,136.38 L149.96,110.75 L150.23,85.13 L150.50,66.89 L150.77,61.23 L151.03,61.23 L151.30,61.23 L151.57,66.83 L151.84,84.85 L152.11,110.19 L152.38,135.52 L152.65,153.54 L152.92,159.14 L153.19,159.14 L153.46,159.14 L153.73,153.61 L154.00,135.79 L154.27,110.76 L154.54,85.72 L154.81,67.91 L155.08,62.37 L155.35,62.37 L155.62,62.37 L155.89,67.84 L156.16,85.45 L156.43,110.20 L156.70,134.95 L156.97,152.56 L157.24,158.03 L157.51,158.03 L157.78,158.03 L158.05,152.62 L158.32,135.22 L158.59,110.76 L158.86,86.30 L159.13,68.90 L159.40,63.49 L159.67,63.49 L159.94,63.49 L160.21,68.84 L160.48,86.04 L160.75,110.21 L161.02,134.39 L161.29,151.59 L161.56,156.93 L161.83,156.93 L162.10,156.93 L162.37,151.65 L162.64,134.66 L162.91,110.77 L163.18,86.88 L163.45,69.88 L163.72,64.60 L163.99,64.60 L164.26,64.60 L164.53,69.82 L164.80,86.62 L165.07,110.23 L165.34,133.84 L165.61,150.64 L165.88,155.86 L166.15,155.86 L166.42,155.86 L166.69,150.70 L166.96,134.10 L167.23,110.77 L167.50,87.44 L167.77,70.84 L168.04,65.68 L168.31,65.68 L168.57,65.68 L168.84,70.78 L169.11,87.18 L169.38,110.24 L169.65,133.30 L169.92,149.71 L170.19,154.81 L170.46,154.81 L170.73,154.81 L171.00,149.77 L171.27,133.56 L171.54,110.77 L171.81,87.99 L172.08,71.78 L172.35,66.74 L172.62,66.74 L172.89,66.74 L173.16,71.72 L173.43,87.74 L173.70,110.26 L173.97,132.78 L174.24,148.80 L174.51,153.78 L174.78,153.78 L175.05,153.78 L175.32,148.86 L175.59,133.03 L175.86,110.78 L176.13,88.52 L176.40,72.69 L176.67,67.77 L176.94,67.77 L177.21,67.77 L177.48,72.64 L177.75,88.28 L178.02,110.27 L178.29,132.26 L178.56,147.91 L178.83,152.77 L179.10,152.77 L179.37,152.77 L179.64,147.97 L179.91,132.51 L180.18,110.78 L180.45,89.05 L180.72,73.59 L180.99,68.79 L181.26,68.79 L181.53,68.79 L181.80,73.54 L182.07,88.81 L182.34,110.29 L182.61,131.76 L182.88,147.04 L183.15,151.79 L183.42,151.79 L183.69,151.79 L183.96,147.09 L184.23,132.00 L184.50,110.78 L184.77,89.57 L185.04,74.47 L185.31,69.78 L185.57,69.78 L185.84,69.78 L186.11,74.42 L186.38,89.33 L186.65,110.30 L186.92,131.27 L187.19,146.19 L187.46,150.82 L187.73,150.82 L188.00,150.82 L188.27,146.24 L188.54,131.50 L188.81,110.79 L189.08,90.07 L189.35,75.33 L189.62,70.75 L189.89,70.75 L190.16,70.75 L190.43,75.28 L190.70,89.84 L190.97,110.32 L191.24,130.79 L191.51,145.36 L191.78,149.88 L192.05,149.88 L192.32,149.88 L192.59,145.41 L192.86,131.02 L193.13,110.79 L193.40,90.56 L193.67,76.17 L193.94,71.70 L194.21,71.70 L194.48,71.70 L194.75,76.12 L195.02,90.34 L195.29,110.33 L195.56,130.32 L195.83,144.54 L196.10,148.96 L196.37,148.96 L196.64,148.96 L196.91,144.60 L197.18,130.55 L197.45,110.79 L197.72,91.04 L197.99,76.99 L198.26,72.62 L198.53,72.62 L198.80,72.62 L199.07,76.94 L199.34,90.83 L199.61,110.35 L199.88,129.87 L200.15,143.75 L200.42,148.07 L200.69,148.07 L200.96,148.07 L201.23,143.80 L201.50,130.08 L201.77,110.80 L202.04,91.51 L202.31,77.79 L202.58,73.53 L202.84,73.53 L203.11,73.53 L203.38,77.74 L203.65,91.30 L203.92,110.36 L204.19,129.42 L204.46,142.98 L204.73,147.19 L205.00,147.19 L205.27,147.19 L205.54,143.03 L205.81,129.63 L206.08,110.80 L206.35,91.97 L206.62,78.57 L206.89,74.41 L207.16,74.41 L207.43,74.41 L207.70,78.52 L207.97,91.77 L208.24,110.38 L208.51,128.99 L208.78,142.23 L209.05,146.34 L209.32,146.34 L209.59,146.34 L209.86,142.28 L210.13,129.19 L210.40,110.81 L210.67,92.42 L210.94,79.34 L211.21,75.27 L211.48,75.27 L211.75,75.27 L212.02,79.29 L212.29,92.22 L212.56,110.39 L212.83,128.56 L213.10,141.49 L213.37,145.51 L213.64,145.51 L213.91,145.51 L214.18,141.54 L214.45,128.77 L214.72,110.81 L214.99,92.85 L215.26,80.08 L215.53,76.11 L215.80,76.11 L216.07,76.11 L216.34,80.03 L216.61,92.66 L216.88,110.40 L217.15,128.15 L217.42,140.78 L217.69,144.70 L217.96,144.70 L218.23,144.70 L218.50,140.82 L218.77,128.35 L219.04,110.81 L219.31,93.28 L219.58,80.80 L219.85,76.92 L220.12,76.92 L220.38,76.92 L220.65,80.76 L220.92,93.09 L221.19,110.42 L221.46,127.75 L221.73,140.08 L222.00,143.91 L222.27,143.91 L222.54,143.91 L222.81,140.13 L223.08,127.94 L223.35,110.82 L223.62,93.69 L223.89,81.51 L224.16,77.72 L224.43,77.72 L224.70,77.72 L224.97,81.46 L225.24,93.51 L225.51,110.43 L225.78,127.36 L226.05,139.40 L226.32,143.15 L226.59,143.15 L226.86,143.15 L227.13,139.45 L227.40,127.55 L227.67,110.82 L227.94,94.10 L228.21,82.20 L228.48,78.50 L228.75,78.50 L229.02,78.50 L229.29,82.15 L229.56,93.92 L229.83,110.45 L230.10,126.98 L230.37,138.74 L230.64,142.40 L230.91,142.40 L231.18,142.40 L231.45,138.78 L231.72,127.16 L231.99,110.83 L232.26,94.49 L232.53,82.87 L232.80,79.26 L233.07,79.26 L233.34,79.26 L233.61,82.83 L233.88,94.31 L234.15,110.46 L234.42,126.61 L234.69,138.09 L234.96,141.67 L235.23,141.67 L235.50,141.67 L235.77,138.14 L236.04,126.79 L236.31,110.83 L236.58,94.88 L236.85,83.53 L237.12,80.00 L237.38,80.00 L237.65,80.00 L237.92,83.48 L238.19,94.70 L238.46,110.47 L238.73,126.25 L239.00,137.46 L239.27,140.95 L239.54,140.95 L239.81,140.95 L240.08,137.51 L240.35,126.42 L240.62,110.84 L240.89,95.25 L241.16,84.17 L241.43,80.72 L241.70,80.72 L241.97,80.72 L242.24,84.13 L242.51,95.08 L242.78,110.49 L243.05,125.89 L243.32,136.85 L243.59,140.26 L243.86,140.26 L244.13,140.26 L244.40,136.89 L244.67,126.06 L244.94,110.84 L245.21,95.62 L245.48,84.79 L245.75,81.43 L246.02,81.43 L246.29,81.43 L246.56,84.75 L246.83,95.46 L247.10,110.50 L247.37,125.55 L247.64,136.25 L247.91,139.58 L248.18,139.58 L248.45,139.58 L248.72,136.29 L248.99,125.71 L249.26,110.85 L249.53,95.98 L249.80,85.40 L250.07,82.12 L250.34,82.12 L250.61,82.12 L250.88,85.36 L251.15,95.82 L251.42,110.51 L251.69,125.21 L251.96,135.66 L252.23,138.91 L252.50,138.91 L252.77,138.91 L253.04,135.70 L253.31,125.37 L253.58,110.85 L253.85,96.33 L254.12,86.00 L254.39,82.79 L254.66,82.79 L254.92,82.79 L255.19,85.96 L255.46,96.17 L255.73,110.53 L256.00,124.88 L256.27,135.09 L256.54,138.26 L256.81,138.26 L257.08,138.26 L257.35,135.13 L257.62,125.04 L257.89,110.86 L258.16,96.68 L258.43,86.59 L258.70,83.45 L258.97,83.45 L259.24,83.45 L259.51,86.55 L259.78,96.52 L260.05,110.54 L260.32,124.56 L260.59,134.53 L260.86,137.63 L261.13,137.63 L261.40,137.63 L261.67,134.56 L261.94,124.71 L262.21,110.86 L262.48,97.01 L262.75,87.16 L263.02,84.10 L263.29,84.10 L263.56,84.10 L263.83,87.12 L264.10,96.86 L264.37,110.54 L264.64,124.22 L264.91,133.95 L265.18,136.97 L265.45,136.97 L265.72,136.97 L265.99,133.99 L266.26,124.38 L266.53,110.88 L266.80,97.39 L267.07,87.78 L267.34,84.80 L267.61,84.80 L267.88,84.80 L268.15,87.74 L268.42,97.22 L268.69,110.55 L268.96,123.87 L269.23,133.35 L269.50,136.30 L269.77,136.30 L270.04,136.30 L270.31,133.39 L270.58,124.04 L270.85,110.89 L271.12,97.74 L271.39,88.39 L271.66,85.48 L271.93,85.48 L272.19,85.48 L272.46,88.35 L272.73,97.58 L273.00,110.56 L273.27,123.54 L273.54,132.77 L273.81,135.64 L274.08,135.64 L274.35,135.64 L274.62,132.81 L274.89,123.70 L275.16,110.90 L275.43,98.09 L275.70,88.99 L275.97,86.15 L276.24,86.15 L276.51,86.15 L276.78,88.95 L277.05,97.94 L277.32,110.57 L277.59,123.21 L277.86,132.20 L278.13,134.99 L278.40,134.99 L278.67,134.99 L278.94,132.23 L279.21,123.37 L279.48,110.90 L279.75,98.44 L280.02,89.57 L280.29,86.82 L280.56,86.82 L280.83,86.82 L281.10,89.54 L281.37,98.29 L281.64,110.58 L281.91,122.88 L282.18,131.63 L282.45,134.35 L282.72,134.35 L282.99,134.35 L283.26,131.67 L283.53,123.04 L283.80,110.91 L284.07,98.78 L284.34,90.15 L284.61,87.47 L284.88,87.47 L285.15,87.47 L285.42,90.11 L285.69,98.63 L285.96,110.60 L286.23,122.56 L286.50,131.08 L286.77,133.73 L287.04,133.73 L287.31,133.73 L287.58,131.12 L287.85,122.72 L288.12,110.92 L288.39,99.11 L288.66,90.72 L288.93,88.11 L289.19,88.11 L289.46,88.11 L289.73,90.68 L290.00,98.97 L290.27,110.61 L290.54,122.25 L290.81,130.54 L291.08,133.11 L291.35,133.11 L291.62,133.11 L291.89,130.57 L292.16,122.40 L292.43,110.92 L292.70,99.44 L292.97,91.27 L293.24,88.74 L293.51,88.74 L293.78,88.74 L294.05,91.24 L294.32,99.30 L294.59,110.62 L294.86,121.94 L295.13,130.00 L295.40,132.50 L295.67,132.50 L295.94,132.50 L296.21,130.04 L296.48,122.09 L296.75,110.93 L297.02,99.77 L297.29,91.82 L297.56,89.35 L297.83,89.35 L298.10,89.35 L298.37,91.79 L298.64,99.62 L298.91,110.63 L299.18,121.64 L299.45,129.48 L299.72,131.91 L299.99,131.91 L300.26,131.91 L300.53,129.51 L300.80,121.79 L301.07,110.94 L301.34,100.08 L301.61,92.36 L301.88,89.96 L302.15,89.96 L302.42,89.96 L302.69,92.33 L302.96,99.94 L303.23,110.64 L303.50,121.35 L303.77,128.96 L304.04,131.33 L304.31,131.33 L304.58,131.33 L304.85,128.99 L305.12,121.49 L305.39,110.94 L305.66,100.40 L305.93,92.89 L306.20,90.56 L306.47,90.56 L306.73,90.56 L307.00,92.86 L307.27,100.26 L307.54,110.66 L307.81,121.05 L308.08,128.45 L308.35,130.75 L308.62,130.75 L308.89,130.75 L309.16,128.49 L309.43,121.20 L309.70,110.95 L309.97,100.70 L310.24,93.41 L310.51,91.15 L310.78,91.15 L311.05,91.15 L311.32,93.38 L311.59,100.57 L311.86,110.67 L312.13,120.77 L312.40,127.95 L312.67,130.19 L312.94,130.19 L313.21,130.19 L313.48,127.99 L313.75,120.91 L314.02,110.96 L314.29,101.00 L314.56,93.92 L314.83,91.72 L315.10,91.72 L315.37,91.72 L315.64,93.89 L315.91,100.87 L316.18,110.68 L316.45,120.49 L316.72,127.46 L316.99,129.63 L317.26,129.63 L317.53,129.63 L317.80,127.50 L318.07,120.62 L318.34,110.96 L318.61,101.30 L318.88,94.43 L319.15,92.29 L319.42,92.29 L319.69,92.29 L319.96,94.40 L320.23,101.17 L320.50,110.69 L320.77,120.21 L321.04,126.98 L321.31,129.09 L321.58,129.09 L321.85,129.09 L322.12,127.02 L322.39,120.35 L322.66,110.97 L322.93,101.59 L323.20,94.92 L323.47,92.85 L323.74,92.85 L324.00,92.85 L324.27,94.89 L324.54,101.46 L324.81,110.70 L325.08,119.94 L325.35,126.51 L325.62,128.55 L325.89,128.55 L326.16,128.55 L326.43,126.54 L326.70,120.07 L326.97,110.98 L327.24,101.88 L327.51,95.41 L327.78,93.40 L328.05,93.40 L328.32,93.40 L328.59,95.38 L328.86,101.75 L329.13,110.71 L329.40,119.67 L329.67,126.05 L329.94,128.03 L330.21,128.03 L330.48,128.03 L330.75,126.08 L331.02,119.80 L331.29,110.98 L331.56,102.16 L331.83,95.89 L332.10,93.94 L332.37,93.94 L332.64,93.94 L332.91,95.86 L333.18,102.04 L333.45,110.72 L333.72,119.41 L333.99,125.59 L334.26,127.51 L334.53,127.51 L334.80,127.51 L335.07,125.62 L335.34,119.54 L335.61,110.99 L335.88,102.44 L336.15,96.36 L336.42,94.47 L336.69,94.47 L336.96,94.47 L337.23,96.33 L337.50,102.32 L337.77,110.73 L338.04,119.15 L338.31,125.14 L338.58,127.00 L338.85,127.00 L339.12,127.00 L339.39,125.17 L339.66,119.28 L339.93,111.00 L340.20,102.72 L340.47,96.83 L340.74,95.00 L341.00,95.00 L341.27,95.00 L341.54,96.80 L341.81,102.60 L342.08,110.74 L342.35,118.89 L342.62,124.69 L342.89,126.49 L343.16,126.49 L343.43,126.49 L343.70,124.72 L343.97,119.02 L344.24,111.01 L344.51,103.00 L344.78,97.30 L345.05,95.52 L345.32,95.52 L345.59,95.52 L345.86,97.27 L346.13,102.87 L346.40,110.76 L346.67,118.64 L346.94,124.24 L347.21,125.99 L347.48,125.99 L347.75,125.99 L348.02,124.27 L348.29,118.76 L348.56,111.01 L348.83,103.27 L349.10,97.75 L349.37,96.04 L349.64,96.04 L349.91,96.04 L350.18,97.73 L350.45,103.15 L350.72,110.77 L350.99,118.39 L351.26,123.81 L351.53,125.49 L351.80,125.49 L352.07,125.49 L352.34,123.84 L352.61,118.51 L352.88,111.02 L353.15,103.53 L353.42,98.20 L353.69,96.55 L353.96,96.55 L354.23,96.55 L354.50,98.18 L354.77,103.41 L355.04,110.78 L355.31,118.14 L355.58,123.38 L355.85,125.01 L356.12,125.01 L356.39,125.01 L356.66,123.41 L356.93,118.26 L357.20,111.03 L357.47,103.79 L357.74,98.65 L358.01,97.05 L358.27,97.05 L358.54,97.05 L358.81,98.62 L359.08,103.68 L359.35,110.79 L359.62,117.90 L359.89,122.96 L360.16,124.53 L360.43,124.53 L360.70,124.53 L360.97,122.99 L361.24,118.02 L361.51,111.04 L361.78,104.05 L362.05,99.08 L362.32,97.54 L362.59,97.54 L362.86,97.54 L363.13,99.05 L363.40,103.94 L363.67,110.80 L363.94,117.66 L364.21,122.55 L364.48,124.07 L364.75,124.07 L365.02,124.07 L365.29,122.58 L365.56,117.78 L365.83,111.04 L366.10,104.30 L366.37,99.51 L366.64,98.02 L366.91,98.02 L367.18,98.02 L367.45,99.48 L367.72,104.19 L367.99,110.81 L368.26,117.43 L368.53,122.14 L368.80,123.61 L369.07,123.61 L369.34,123.61 L369.61,122.17 L369.88,117.55 L370.15,111.05 L370.42,104.55 L370.69,99.93 L370.96,98.49 L371.23,98.49 L371.50,98.49 L371.77,99.90 L372.04,104.44 L372.31,110.82 L372.58,117.20 L372.85,121.74 L373.12,123.15 L373.39,123.15 L373.66,123.15 L373.93,121.77 L374.20,117.32 L374.47,111.06 L374.74,104.80 L375.01,100.34 L375.28,98.96 L375.54,98.96 L375.81,98.96 L376.08,100.32 L376.35,104.69 L376.62,110.83 L376.89,116.98 L377.16,121.35 L377.43,122.71 L377.70,122.71 L377.97,122.71 L378.24,121.38 L378.51,117.09 L378.78,111.06 L379.05,105.04 L379.32,100.75 L379.59,99.42 L379.86,99.42 L380.13,99.42 L380.40,100.73 L380.67,104.93 L380.94,110.85 L381.21,116.76 L381.48,120.97 L381.75,122.27 L382.02,122.27 L382.29,122.27 L382.56,120.99 L382.83,116.87 L383.10,111.07 L383.37,105.27 L383.64,101.15 L383.91,99.87 L384.18,99.87 L384.45,99.87 L384.72,101.13 L384.99,105.17 L385.26,110.86 L385.53,116.54 L385.80,120.59 L386.07,121.84 L386.34,121.84 L386.61,121.84 L386.88,120.61 L387.15,116.65 L387.42,111.08 L387.69,105.51 L387.96,101.55 L388.23,100.31 L388.50,100.31 L388.77,100.31 L389.04,101.52 L389.31,105.41 L389.58,110.87 L389.85,116.33 L390.12,120.21 L390.39,121.42 L390.66,121.42 L390.93,121.42 L391.20,120.24 L391.47,116.43 L391.74,111.09 L392.01,105.74 L392.28,101.93 L392.55,100.75 L392.81,100.75 L393.08,100.75 L393.35,101.91 L393.62,105.64 L393.89,110.88 L394.16,116.12 L394.43,119.85 L394.70,121.01 L394.97,121.01 L395.24,121.01 L395.51,119.87 L395.78,116.22 L396.05,111.09 L396.32,105.96 L396.59,102.31 L396.86,101.18 L397.13,101.18 L397.40,101.18 L397.67,102.29 L397.94,105.86 L398.21,110.89 L398.48,115.91 L398.75,119.49 L399.02,120.60 L399.29,120.60 L399.56,120.60 L399.83,119.51 L400.10,116.02 L400.37,111.10 L400.64,106.19 L400.91,102.69 L401.18,101.60 L401.45,101.60 L401.72,101.60 L401.99,102.66 L402.26,106.09 L402.53,110.90 L402.80,115.71 L403.07,119.13 L403.34,120.20 L403.61,120.20 L403.88,120.20 L404.15,119.15 L404.42,115.81 L404.69,111.10 L404.96,106.40 L405.23,103.05 L405.50,102.01 L405.77,102.01 L406.04,102.01 L406.31,103.02 L406.58,106.30 L406.85,110.90 L407.12,115.50 L407.39,118.77 L407.66,119.79 L407.93,119.79 L408.20,119.79 L408.47,118.80 L408.74,115.60 L409.01,111.10 L409.28,106.60 L409.55,103.40 L409.82,102.41 L410.09,102.41 L410.35,102.41 L410.62,103.38 L410.89,106.51 L411.16,110.90 L411.43,115.30 L411.70,118.42 L411.97,119.40 L412.24,119.40 L412.51,119.40 L412.78,118.45 L413.05,115.39 L413.32,111.10 L413.59,106.80 L413.86,103.75 L414.13,102.80 L414.40,102.80 L414.67,102.80 L414.94,103.73 L415.21,106.71 L415.48,110.90 L415.75,115.10 L416.02,118.08 L416.29,119.01 L416.56,119.01 L416.83,119.01 L417.10,118.10 L417.37,115.19 L417.64,111.10 L417.91,107.00 L418.18,104.09 L418.45,103.18 L418.72,103.18 L418.99,103.18 L419.26,104.07 L419.53,106.91 L419.80,110.90 L420.07,114.90 L420.34,117.74 L420.61,118.63 L420.88,118.63 L421.15,118.63 L421.42,117.76 L421.69,114.99 L421.96,111.09 L422.23,107.20 L422.50,104.43 L422.77,103.56 L423.04,103.56 L423.31,103.56 L423.58,104.40 L423.85,107.11 L424.12,110.91 L424.39,114.71 L424.66,117.41 L424.93,118.25 L425.20,118.25 L425.47,118.25 L425.74,117.43 L426.01,114.80 L426.28,111.09 L426.55,107.39 L426.82,104.76 L427.09,103.94 L427.36,103.94 L427.62,103.94 L427.89,104.73 L428.16,107.30 L428.43,110.91 L428.70,114.52 L428.97,117.08 L429.24,117.88 L429.51,117.88 L429.78,117.88 L430.05,117.10 L430.32,114.60 L430.59,111.09 L430.86,107.58 L431.13,105.08 L431.40,104.30 L431.67,104.30 L431.94,104.30 L432.21,105.06 L432.48,107.49 L432.75,110.91 L433.02,114.33 L433.29,116.76 L433.56,117.52 L433.83,117.52 L434.10,117.52 L434.37,116.78 L434.64,114.41 L434.91,111.09 L435.18,107.76 L435.45,105.40 L435.72,104.66 L435.99,104.66 L436.26,104.66 L436.53,105.38 L436.80,107.68 L437.07,110.91 L437.34,114.14 L437.61,116.44 L437.88,117.16 L438.15,117.16 L438.42,117.16 L438.69,116.46 L438.96,114.23 L439.23,111.09 L439.50,107.95 L439.77,105.71 L440.04,105.02 L440.31,105.02 L440.58,105.02 L440.85,105.69 L441.12,107.86 L441.39,110.91 L441.66,113.96 L441.93,116.13 L442.20,116.81 L442.47,116.81 L442.74,116.81 L443.01,116.15 L443.28,114.05 L443.55,111.09 L443.82,108.13 L444.09,106.02 L444.36,105.37 L444.62,105.37 L444.89,105.37 L445.16,106.00 L445.43,108.04 L445.70,110.91 L445.97,113.78 L446.24,115.83 L446.51,116.46 L446.78,116.46 L447.05,116.46 L447.32,115.85 L447.59,113.87 L447.86,111.09 L448.13,108.30 L448.40,106.32 L448.67,105.71 L448.94,105.71 L449.21,105.71 L449.48,106.30 L449.75,108.22 L450.02,110.92 L450.29,113.61 L450.56,115.53 L450.83,116.12 L451.10,116.12 L451.37,116.12 L451.64,115.55 L451.91,113.69 L452.18,111.08 L452.45,108.48 L452.72,106.62 L452.99,106.05 L453.26,106.05 L453.53,106.05 L453.80,106.60 L454.07,108.40 L454.34,110.92 L454.61,113.44 L454.88,115.23 L455.15,115.79 L455.42,115.79 L455.69,115.79 L455.96,115.25 L456.23,113.52 L456.50,111.08 L456.77,108.65 L457.04,106.92 L457.31,106.38 L457.58,106.38 L457.85,106.38 L458.12,106.90 L458.39,108.57 L458.66,110.92 L458.93,113.27 L459.20,114.94 L459.47,115.46 L459.74,115.46 L460.01,115.46 L460.28,114.96 L460.55,113.35 L460.82,111.08 L461.09,108.82 L461.36,107.20 L461.63,106.70 L461.89,106.70 L462.16,106.70 L462.43,107.19 L462.70,108.74 L462.97,110.92 L463.24,113.10 L463.51,114.65 L463.78,115.14 L464.05,115.14 L464.32,115.14 L464.59,114.67 L464.86,113.18 L465.13,111.08 L465.40,108.98 L465.67,107.49 L465.94,107.02 L466.21,107.02 L466.48,107.02 L466.75,107.47 L467.02,108.90 L467.29,110.92 L467.56,112.94 L467.83,114.37 L468.10,114.82 L468.37,114.82 L468.64,114.82 L468.91,114.39 L469.18,113.01 L469.45,111.08 L469.72,109.14 L469.99,107.77 L470.26,107.34 L470.53,107.34 L470.80,107.34 L471.07,107.75 L471.34,109.07 L471.61,110.92 L471.88,112.78 L472.15,114.10 L472.42,114.51 L472.69,114.51 L472.96,114.51 L473.23,114.11 L473.50,112.85 L473.77,111.08 L474.04,109.30 L474.31,108.04 L474.58,107.65 L474.85,107.65 L475.12,107.65 L475.39,108.02 L475.66,109.23 L475.93,110.92 L476.20,112.62 L476.47,113.83 L476.74,114.20 L477.01,114.20 L477.28,114.20 L477.55,113.84 L477.82,112.69 L478.09,111.08 L478.36,109.46 L478.63,108.31 L478.90,107.95 L479.16,107.95 L479.43,107.95 L479.70,108.29 L479.97,109.39 L480.24,110.92 L480.51,112.46 L480.78,113.56 L481.05,113.90 L481.32,113.90 L481.59,113.90 L481.86,113.58 L482.13,112.54 L482.40,111.07 L482.67,109.61 L482.94,108.57 L483.21,108.25 L483.48,108.25 L483.75,108.25 L484.02,108.56 L484.29,109.54 L484.56,110.93 L484.83,112.31 L485.10,113.30 L485.37,113.60 L485.64,113.60 L485.91,113.60 L486.18,113.31 L486.45,112.38 L486.72,111.07 L486.99,109.76 L487.26,108.83 L487.53,108.54 L487.80,108.54 L488.07,108.54 L488.34,108.82 L488.61,109.69 L488.88,110.93 L489.15,112.16 L489.42,113.04 L489.69,113.31 L489.96,113.31 L490.23,113.31 L490.50,113.06 L490.77,112.23 L491.04,111.07 L491.31,109.91 L491.58,109.09 L491.85,108.83 L492.12,108.83 L492.39,108.83 L492.66,109.07 L492.93,109.84 L493.20,110.93 L493.47,112.01 L493.74,112.78 L494.01,113.02 L494.28,113.02 L494.55,113.02 L494.82,112.80 L495.09,112.08 L495.36,111.07 L495.63,110.06 L495.90,109.34 L496.17,109.12 L496.43,109.12 L496.70,109.12 L496.97,109.32 L497.24,109.99 L497.51,110.93 L497.78,111.87 L498.05,112.54 L498.32,112.74 L498.59,112.74 L498.86,112.74 L499.13,112.55 L499.40,111.94 L499.67,111.07 L499.94,110.20 L500.21,109.59 L500.48,109.40 L500.75,109.40 L501.02,109.40 L501.29,109.57 L501.56,110.14 L501.83,110.93 L502.10,111.73 L502.37,112.29 L502.64,112.47 L502.91,112.47 L503.18,112.47 L503.45,112.31 L503.72,111.79 L503.99,111.07 L504.26,110.35 L504.53,109.83 L504.80,109.67 L505.07,109.67 L505.34,109.67 L505.61,109.82 L505.88,110.28 L506.15,110.93 L506.42,111.59 L506.69,112.05 L506.96,112.19 L507.23,112.19 L507.50,112.19 L507.77,112.06 L508.04,111.65 L508.31,111.07 L508.58,110.48 L508.85,110.07 L509.12,109.94 L509.39,109.94 L509.66,109.94 L509.93,110.05 L510.20,110.40 L510.47,110.89 L510.74,111.38 L511.01,111.74 L511.28,111.84 L511.55,111.84 L511.82,111.84 L512.09,111.76 L512.36,111.49 L512.63,111.11 L512.90,110.73 L513.17,110.45 L513.44,110.37 L513.71,110.37 L513.97,110.37 L514.24,110.43 L514.51,110.62 L514.78,110.89 L515.05,111.16 L515.32,111.36 L515.59,111.42 L515.86,111.42 L516.13,111.42 L516.40,111.38 L516.67,111.27 L516.94,111.10 L517.21,110.94 L517.48,110.82 L517.75,110.79 L518.02,110.79 L518.29,110.79 L518.56,110.81 L518.83,110.87 L519.10,110.96 L519.37,111.05 L519.64,111.11 L519.91,111.13 L520.18,111.13 L520.45,111.13 L520.72,111.12 L520.99,111.09 L521.26,111.04 L521.53,110.99 L521.80,110.96 L522.07,110.95 L522.34,110.95 L522.61,110.95 L522.88,110.95 L523.15,110.96 L523.42,110.98 L523.69,110.99 L523.96,111.00 L524.23,111.00 L524.50,111.00 L526.00,111.00 L540.80,111.00"/>
<path transform="translate(0,0.00)" stroke="#808080" stroke-width="2.15" d="M56.00,111.00 L122.80,111.00 L123.53,113.92 L124.26,116.84 L124.99,118.30 L125.72,118.30 L126.45,118.30 L127.18,118.30 L127.91,118.30 L128.64,120.30 L129.37,122.30 L130.10,124.28 L130.47,124.22 L130.85,121.98 L131.22,117.07 L131.60,110.64 L131.97,104.21 L132.35,99.30 L132.72,97.07 L133.10,97.00 L133.42,97.01 L133.75,99.75 L134.07,106.55 L134.40,115.68 L134.72,124.81 L135.05,131.61 L135.38,134.35 L135.70,134.37 L135.99,134.37 L136.29,131.24 L136.58,122.42 L136.88,110.32 L137.17,98.22 L137.46,89.41 L137.76,86.28 L138.05,86.28 L138.30,86.28 L138.56,88.82 L138.81,98.07 L139.06,111.36 L139.31,124.66 L139.56,133.91 L139.82,136.45 L140.07,136.45 L140.36,136.45 L140.65,133.11 L140.94,123.62 L141.24,110.56 L141.53,97.49 L141.82,88.00 L142.11,84.67 L142.40,84.67 L142.67,84.66 L142.94,87.60 L143.21,97.04 L143.48,110.30 L143.75,123.57 L144.02,133.01 L144.29,135.94 L144.56,135.94 L144.83,135.94 L145.10,133.04 L145.37,123.72 L145.64,110.60 L145.91,97.49 L146.18,88.16 L146.45,85.26 L146.72,85.26 L146.99,85.26 L147.26,88.13 L147.53,97.35 L147.80,110.32 L148.07,123.28 L148.34,132.50 L148.61,135.37 L148.88,135.37 L149.15,135.37 L149.42,132.54 L149.69,123.42 L149.96,110.61 L150.23,97.80 L150.50,88.68 L150.77,85.85 L151.03,85.85 L151.30,85.85 L151.57,88.65 L151.84,97.66 L152.11,110.33 L152.38,123.00 L152.65,132.01 L152.92,134.81 L153.19,134.81 L153.46,134.81 L153.73,132.04 L154.00,123.13 L154.27,110.62 L154.54,98.10 L154.81,89.19 L155.08,86.42 L155.35,86.42 L155.62,86.42 L155.89,89.16 L156.16,97.96 L156.43,110.34 L156.70,122.71 L156.97,131.52 L157.24,134.26 L157.51,134.26 L157.78,134.26 L158.05,131.55 L158.32,122.85 L158.59,110.62 L158.86,98.39 L159.13,89.69 L159.40,86.99 L159.67,86.99 L159.94,86.99 L160.21,89.66 L160.48,98.26 L160.75,110.35 L161.02,122.44 L161.29,131.04 L161.56,133.71 L161.83,133.71 L162.10,133.71 L162.37,131.07 L162.64,122.57 L162.91,110.63 L163.18,98.69 L163.45,90.19 L163.72,87.55 L163.99,87.55 L164.26,87.55 L164.53,90.16 L164.80,98.56 L165.07,110.36 L165.34,122.17 L165.61,130.57 L165.88,133.18 L166.15,133.18 L166.42,133.18 L166.69,130.60 L166.96,122.30 L167.23,110.64 L167.50,98.97 L167.77,90.67 L168.04,88.09 L168.31,88.09 L168.57,88.09 L168.84,90.64 L169.11,98.84 L169.38,110.38 L169.65,121.91 L169.92,130.11 L170.19,132.66 L170.46,132.66 L170.73,132.66 L171.00,130.14 L171.27,122.04 L171.54,110.64 L171.81,99.25 L172.08,91.14 L172.35,88.63 L172.62,88.63 L172.89,88.63 L173.16,91.12 L173.43,99.13 L173.70,110.39 L173.97,121.65 L174.24,129.66 L174.51,132.15 L174.78,132.15 L175.05,132.15 L175.32,129.69 L175.59,121.77 L175.86,110.65 L176.13,99.52 L176.40,91.61 L176.67,89.15 L176.94,89.15 L177.21,89.15 L177.48,91.58 L177.75,99.40 L178.02,110.40 L178.29,121.40 L178.56,129.22 L178.83,131.65 L179.10,131.65 L179.37,131.65 L179.64,129.25 L179.91,121.52 L180.18,110.66 L180.45,99.79 L180.72,92.06 L180.99,89.66 L181.26,89.66 L181.53,89.66 L181.80,92.03 L182.07,99.67 L182.34,110.41 L182.61,121.15 L182.88,128.79 L183.15,131.16 L183.42,131.16 L183.69,131.16 L183.96,128.82 L184.23,121.27 L184.50,110.66 L184.77,100.05 L185.04,92.51 L185.31,90.16 L185.57,90.16 L185.84,90.16 L186.11,92.48 L186.38,99.94 L186.65,110.42 L186.92,120.91 L187.19,128.37 L187.46,130.68 L187.73,130.68 L188.00,130.68 L188.27,128.39 L188.54,121.03 L188.81,110.67 L189.08,100.31 L189.35,92.94 L189.62,90.65 L189.89,90.65 L190.16,90.65 L190.43,92.92 L190.70,100.20 L190.97,110.44 L191.24,120.67 L191.51,127.96 L191.78,130.22 L192.05,130.22 L192.32,130.22 L192.59,127.98 L192.86,120.79 L193.13,110.67 L193.40,100.56 L193.67,93.37 L193.94,91.13 L194.21,91.13 L194.48,91.13 L194.75,93.34 L195.02,100.45 L195.29,110.45 L195.56,120.44 L195.83,127.55 L196.10,129.76 L196.37,129.76 L196.64,129.76 L196.91,127.58 L197.18,120.56 L197.45,110.68 L197.72,100.81 L197.99,93.78 L198.26,91.60 L198.53,91.60 L198.80,91.60 L199.07,93.76 L199.34,100.70 L199.61,110.46 L199.88,120.22 L200.15,127.16 L200.42,129.32 L200.69,129.32 L200.96,129.32 L201.23,127.19 L201.50,120.33 L201.77,110.69 L202.04,101.05 L202.31,94.19 L202.58,92.05 L202.84,92.05 L203.11,92.05 L203.38,94.16 L203.65,100.94 L203.92,110.47 L204.19,120.00 L204.46,126.78 L204.73,128.89 L205.00,128.89 L205.27,128.89 L205.54,126.81 L205.81,120.11 L206.08,110.69 L206.35,101.28 L206.62,94.58 L206.89,92.50 L207.16,92.50 L207.43,92.50 L207.70,94.56 L207.97,101.18 L208.24,110.48 L208.51,119.79 L208.78,126.41 L209.05,128.47 L209.32,128.47 L209.59,128.47 L209.86,126.43 L210.13,119.89 L210.40,110.70 L210.67,101.51 L210.94,94.97 L211.21,92.93 L211.48,92.93 L211.75,92.93 L212.02,94.94 L212.29,101.41 L212.56,110.49 L212.83,119.58 L213.10,126.05 L213.37,128.06 L213.64,128.06 L213.91,128.06 L214.18,126.07 L214.45,119.68 L214.72,110.71 L214.99,101.73 L215.26,95.34 L215.53,93.36 L215.80,93.36 L216.07,93.36 L216.34,95.32 L216.61,101.63 L216.88,110.51 L217.15,119.38 L217.42,125.69 L217.69,127.66 L217.96,127.66 L218.23,127.66 L218.50,125.72 L218.77,119.48 L219.04,110.71 L219.31,101.95 L219.58,95.71 L219.85,93.77 L220.12,93.77 L220.38,93.77 L220.65,95.69 L220.92,101.85 L221.19,110.52 L221.46,119.18 L221.73,125.35 L222.00,127.27 L222.27,127.27 L222.54,127.27 L222.81,125.37 L223.08,119.28 L223.35,110.72 L223.62,102.16 L223.89,96.07 L224.16,94.17 L224.43,94.17 L224.70,94.17 L224.97,96.04 L225.24,102.07 L225.51,110.53 L225.78,118.99 L226.05,125.02 L226.32,126.89 L226.59,126.89 L226.86,126.89 L227.13,125.04 L227.40,119.09 L227.67,110.73 L227.94,102.36 L228.21,96.42 L228.48,94.57 L228.75,94.57 L229.02,94.57 L229.29,96.39 L229.56,102.28 L229.83,110.54 L230.10,118.81 L230.37,124.69 L230.64,126.52 L230.91,126.52 L231.18,126.52 L231.45,124.71 L231.72,118.90 L231.99,110.73 L232.26,102.57 L232.53,96.76 L232.80,94.95 L233.07,94.95 L233.34,94.95 L233.61,96.74 L233.88,102.48 L234.15,110.55 L234.42,118.63 L234.69,124.37 L234.96,126.16 L235.23,126.16 L235.50,126.16 L235.77,124.39 L236.04,118.72 L236.31,110.74 L236.58,102.76 L236.85,97.09 L237.12,95.32 L237.38,95.32 L237.65,95.32 L237.92,97.07 L238.19,102.68 L238.46,110.56 L238.73,118.45 L239.00,124.06 L239.27,125.80 L239.54,125.80 L239.81,125.80 L240.08,124.08 L240.35,118.54 L240.62,110.75 L240.89,102.96 L241.16,97.41 L241.43,95.69 L241.70,95.69 L241.97,95.69 L242.24,97.39 L242.51,102.87 L242.78,110.58 L243.05,118.28 L243.32,123.76 L243.59,125.46 L243.86,125.46 L244.13,125.46 L244.40,123.78 L244.67,118.36 L244.94,110.75 L245.21,103.14 L245.48,97.73 L245.75,96.05 L246.02,96.05 L246.29,96.05 L246.56,97.71 L246.83,103.06 L247.10,110.59 L247.37,118.11 L247.64,123.46 L247.91,125.13 L248.18,125.13 L248.45,125.13 L248.72,123.48 L248.99,118.19 L249.26,110.76 L249.53,103.33 L249.80,98.04 L250.07,96.40 L250.34,96.40 L250.61,96.40 L250.88,98.02 L251.15,103.25 L251.42,110.60 L251.69,117.95 L251.96,123.17 L252.23,124.80 L252.50,124.80 L252.77,124.80 L253.04,123.19 L253.31,118.03 L253.58,110.77 L253.85,103.51 L254.12,98.34 L254.39,96.74 L254.66,96.74 L254.92,96.74 L255.19,98.33 L255.46,103.43 L255.73,110.61 L256.00,117.79 L256.27,122.89 L256.54,124.48 L256.81,124.48 L257.08,124.48 L257.35,122.91 L257.62,117.87 L257.89,110.78 L258.16,103.69 L258.43,98.64 L258.70,97.07 L258.97,97.07 L259.24,97.07 L259.51,98.62 L259.78,103.61 L260.05,110.62 L260.32,117.63 L260.59,122.61 L260.86,124.16 L261.13,124.16 L261.40,124.16 L261.67,122.63 L261.94,117.71 L262.21,110.78 L262.48,103.86 L262.75,98.93 L263.02,97.40 L263.29,97.40 L263.56,97.40 L263.83,98.92 L264.10,103.78 L264.37,110.62 L264.64,117.46 L264.91,122.33 L265.18,123.84 L265.45,123.84 L265.72,123.84 L265.99,122.35 L266.26,117.55 L266.53,110.80 L266.80,104.05 L267.07,99.25 L267.34,97.76 L267.61,97.76 L267.88,97.76 L268.15,99.23 L268.42,103.97 L268.69,110.63 L268.96,117.30 L269.23,122.04 L269.50,123.51 L269.77,123.51 L270.04,123.51 L270.31,122.06 L270.58,117.38 L270.85,110.81 L271.12,104.23 L271.39,99.56 L271.66,98.10 L271.93,98.10 L272.19,98.10 L272.46,99.54 L272.73,104.15 L273.00,110.64 L273.27,117.13 L273.54,121.75 L273.81,123.18 L274.08,123.18 L274.35,123.18 L274.62,121.77 L274.89,117.22 L275.16,110.81 L275.43,104.41 L275.70,99.86 L275.97,98.44 L276.24,98.44 L276.51,98.44 L276.78,99.84 L277.05,104.34 L277.32,110.65 L277.59,116.97 L277.86,121.47 L278.13,122.86 L278.40,122.86 L278.67,122.86 L278.94,121.49 L279.21,117.05 L279.48,110.82 L279.75,104.59 L280.02,100.16 L280.29,98.78 L280.56,98.78 L280.83,98.78 L281.10,100.14 L281.37,104.52 L281.64,110.67 L281.91,116.82 L282.18,121.19 L282.45,122.55 L282.72,122.55 L282.99,122.55 L283.26,121.21 L283.53,116.89 L283.80,110.83 L284.07,104.77 L284.34,100.45 L284.61,99.11 L284.88,99.11 L285.15,99.11 L285.42,100.43 L285.69,104.69 L285.96,110.68 L286.23,116.66 L286.50,120.92 L286.77,122.24 L287.04,122.24 L287.31,122.24 L287.58,120.94 L287.85,116.74 L288.12,110.84 L288.39,104.94 L288.66,100.74 L288.93,99.43 L289.19,99.43 L289.46,99.43 L289.73,100.72 L290.00,104.86 L290.27,110.69 L290.54,116.51 L290.81,120.65 L291.08,121.94 L291.35,121.94 L291.62,121.94 L291.89,120.67 L292.16,116.59 L292.43,110.85 L292.70,105.11 L292.97,101.02 L293.24,99.75 L293.51,99.75 L293.78,99.75 L294.05,101.01 L294.32,105.03 L294.59,110.70 L294.86,116.36 L295.13,120.39 L295.40,121.64 L295.67,121.64 L295.94,121.64 L296.21,120.41 L296.48,116.43 L296.75,110.85 L297.02,105.27 L297.29,101.30 L297.56,100.07 L297.83,100.07 L298.10,100.07 L298.37,101.28 L298.64,105.20 L298.91,110.71 L299.18,116.21 L299.45,120.13 L299.72,121.35 L299.99,121.35 L300.26,121.35 L300.53,120.15 L300.80,116.29 L301.07,110.86 L301.34,105.44 L301.61,101.58 L301.88,100.38 L302.15,100.38 L302.42,100.38 L302.69,101.56 L302.96,105.37 L303.23,110.72 L303.50,116.07 L303.77,119.88 L304.04,121.06 L304.31,121.06 L304.58,121.06 L304.85,119.89 L305.12,116.14 L305.39,110.87 L305.66,105.60 L305.93,101.84 L306.20,100.68 L306.47,100.68 L306.73,100.68 L307.00,101.83 L307.27,105.53 L307.54,110.73 L307.81,115.93 L308.08,119.63 L308.35,120.78 L308.62,120.78 L308.89,120.78 L309.16,119.64 L309.43,116.00 L309.70,110.88 L309.97,105.75 L310.24,102.11 L310.51,100.98 L310.78,100.98 L311.05,100.98 L311.32,102.09 L311.59,105.69 L311.86,110.74 L312.13,115.79 L312.40,119.38 L312.67,120.50 L312.94,120.50 L313.21,120.50 L313.48,119.40 L313.75,115.86 L314.02,110.89 L314.29,105.91 L314.56,102.37 L314.83,101.27 L315.10,101.27 L315.37,101.27 L315.64,102.35 L315.91,105.84 L316.18,110.75 L316.45,115.65 L316.72,119.14 L316.99,120.23 L317.26,120.23 L317.53,120.23 L317.80,119.16 L318.07,115.72 L318.34,110.89 L318.61,106.06 L318.88,102.63 L319.15,101.56 L319.42,101.56 L319.69,101.56 L319.96,102.61 L320.23,106.00 L320.50,110.76 L320.77,115.52 L321.04,118.91 L321.31,119.96 L321.58,119.96 L321.85,119.96 L322.12,118.92 L322.39,115.59 L322.66,110.90 L322.93,106.21 L323.20,102.88 L323.47,101.84 L323.74,101.84 L324.00,101.84 L324.27,102.86 L324.54,106.15 L324.81,110.77 L325.08,115.39 L325.35,118.68 L325.62,119.70 L325.89,119.70 L326.16,119.70 L326.43,118.69 L326.70,115.46 L326.97,110.91 L327.24,106.36 L327.51,103.13 L327.78,102.12 L328.05,102.12 L328.32,102.12 L328.59,103.11 L328.86,106.30 L329.13,110.78 L329.40,115.26 L329.67,118.45 L329.94,119.44 L330.21,119.44 L330.48,119.44 L330.75,118.46 L331.02,115.33 L331.29,110.92 L331.56,106.51 L331.83,103.37 L332.10,102.40 L332.37,102.40 L332.64,102.40 L332.91,103.36 L333.18,106.45 L333.45,110.79 L333.72,115.13 L333.99,118.22 L334.26,119.19 L334.53,119.19 L334.80,119.19 L335.07,118.24 L335.34,115.20 L335.61,110.93 L335.88,106.65 L336.15,103.61 L336.42,102.66 L336.69,102.66 L336.96,102.66 L337.23,103.60 L337.50,106.59 L337.77,110.80 L338.04,115.01 L338.31,118.00 L338.58,118.93 L338.85,118.93 L339.12,118.93 L339.39,118.02 L339.66,115.07 L339.93,110.93 L340.20,106.80 L340.47,103.85 L340.74,102.94 L341.00,102.94 L341.27,102.94 L341.54,103.84 L341.81,106.74 L342.08,110.81 L342.35,114.88 L342.62,117.78 L342.89,118.68 L343.16,118.68 L343.43,118.68 L343.70,117.80 L343.97,114.95 L344.24,110.94 L344.51,106.94 L344.78,104.09 L345.05,103.20 L345.32,103.20 L345.59,103.20 L345.86,104.07 L346.13,106.88 L346.40,110.82 L346.67,114.76 L346.94,117.56 L347.21,118.44 L347.48,118.44 L347.75,118.44 L348.02,117.58 L348.29,114.82 L348.56,110.95 L348.83,107.08 L349.10,104.32 L349.37,103.47 L349.64,103.47 L349.91,103.47 L350.18,104.31 L350.45,107.02 L350.72,110.83 L350.99,114.64 L351.26,117.35 L351.53,118.19 L351.80,118.19 L352.07,118.19 L352.34,117.37 L352.61,114.70 L352.88,110.96 L353.15,107.21 L353.42,104.55 L353.69,103.72 L353.96,103.72 L354.23,103.72 L354.50,104.54 L354.77,107.16 L355.04,110.84 L355.31,114.52 L355.58,117.14 L355.85,117.96 L356.12,117.96 L356.39,117.96 L356.66,117.16 L356.93,114.58 L357.20,110.97 L357.47,107.35 L357.74,104.78 L358.01,103.98 L358.27,103.98 L358.54,103.98 L358.81,104.76 L359.08,107.29 L359.35,110.85 L359.62,114.41 L359.89,116.94 L360.16,117.72 L360.43,117.72 L360.70,117.72 L360.97,116.95 L361.24,114.47 L361.51,110.98 L361.78,107.48 L362.05,105.00 L362.32,104.23 L362.59,104.23 L362.86,104.23 L363.13,104.99 L363.40,107.43 L363.67,110.86 L363.94,114.29 L364.21,116.73 L364.48,117.49 L364.75,117.49 L365.02,117.49 L365.29,116.75 L365.56,114.35 L365.83,110.98 L366.10,107.61 L366.37,105.22 L366.64,104.47 L366.91,104.47 L367.18,104.47 L367.45,105.20 L367.72,107.56 L367.99,110.87 L368.26,114.18 L368.53,116.54 L368.80,117.27 L369.07,117.27 L369.34,117.27 L369.61,116.55 L369.88,114.24 L370.15,110.99 L370.42,107.74 L370.69,105.43 L370.96,104.71 L371.23,104.71 L371.50,104.71 L371.77,105.42 L372.04,107.69 L372.31,110.88 L372.58,114.07 L372.85,116.34 L373.12,117.05 L373.39,117.05 L373.66,117.05 L373.93,116.36 L374.20,114.13 L374.47,111.00 L374.74,107.87 L375.01,105.64 L375.28,104.95 L375.54,104.95 L375.81,104.95 L376.08,105.63 L376.35,107.82 L376.62,110.89 L376.89,113.96 L377.16,116.15 L377.43,116.83 L377.70,116.83 L377.97,116.83 L378.24,116.16 L378.51,114.02 L378.78,111.01 L379.05,108.00 L379.32,105.85 L379.59,105.19 L379.86,105.19 L380.13,105.19 L380.40,105.84 L380.67,107.94 L380.94,110.90 L381.21,113.86 L381.48,115.96 L381.75,116.62 L382.02,116.62 L382.29,116.62 L382.56,115.97 L382.83,113.91 L383.10,111.02 L383.37,108.12 L383.64,106.06 L383.91,105.42 L384.18,105.42 L384.45,105.42 L384.72,106.05 L384.99,108.07 L385.26,110.91 L385.53,113.75 L385.80,115.78 L386.07,116.41 L386.34,116.41 L386.61,116.41 L386.88,115.79 L387.15,113.81 L387.42,111.02 L387.69,108.24 L387.96,106.26 L388.23,105.64 L388.50,105.64 L388.77,105.64 L389.04,106.25 L389.31,108.19 L389.58,110.92 L389.85,113.65 L390.12,115.60 L390.39,116.20 L390.66,116.20 L390.93,116.20 L391.20,115.61 L391.47,113.71 L391.74,111.03 L392.01,108.36 L392.28,106.46 L392.55,105.87 L392.81,105.87 L393.08,105.87 L393.35,106.45 L393.62,108.31 L393.89,110.93 L394.16,113.55 L394.43,115.42 L394.70,116.00 L394.97,116.00 L395.24,116.00 L395.51,115.43 L395.78,113.61 L396.05,111.04 L396.32,108.48 L396.59,106.65 L396.86,106.08 L397.13,106.08 L397.40,106.08 L397.67,106.64 L397.94,108.43 L398.21,110.94 L398.48,113.45 L398.75,115.24 L399.02,115.80 L399.29,115.80 L399.56,115.80 L399.83,115.25 L400.10,113.51 L400.37,111.05 L400.64,108.59 L400.91,106.84 L401.18,106.30 L401.45,106.30 L401.72,106.30 L401.99,106.83 L402.26,108.54 L402.53,110.95 L402.80,113.35 L403.07,115.07 L403.34,115.60 L403.61,115.60 L403.88,115.60 L404.15,115.08 L404.42,113.40 L404.69,111.05 L404.96,108.70 L405.23,107.02 L405.50,106.50 L405.77,106.50 L406.04,106.50 L406.31,107.01 L406.58,108.65 L406.85,110.95 L407.12,113.25 L407.39,114.89 L407.66,115.40 L407.93,115.40 L408.20,115.40 L408.47,114.90 L408.74,113.30 L409.01,111.05 L409.28,108.80 L409.55,107.20 L409.82,106.70 L410.09,106.70 L410.35,106.70 L410.62,107.19 L410.89,108.75 L411.16,110.95 L411.43,113.15 L411.70,114.71 L411.97,115.20 L412.24,115.20 L412.51,115.20 L412.78,114.72 L413.05,113.20 L413.32,111.05 L413.59,108.90 L413.86,107.37 L414.13,106.90 L414.40,106.90 L414.67,106.90 L414.94,107.36 L415.21,108.85 L415.48,110.95 L415.75,113.05 L416.02,114.54 L416.29,115.00 L416.56,115.00 L416.83,115.00 L417.10,114.55 L417.37,113.09 L417.64,111.05 L417.91,109.00 L418.18,107.54 L418.45,107.09 L418.72,107.09 L418.99,107.09 L419.26,107.53 L419.53,108.95 L419.80,110.95 L420.07,112.95 L420.34,114.37 L420.61,114.81 L420.88,114.81 L421.15,114.81 L421.42,114.38 L421.69,113.00 L421.96,111.05 L422.23,109.10 L422.50,107.71 L422.77,107.28 L423.04,107.28 L423.31,107.28 L423.58,107.70 L423.85,109.05 L424.12,110.95 L424.39,112.85 L424.66,114.20 L424.93,114.62 L425.20,114.62 L425.47,114.62 L425.74,114.22 L426.01,112.90 L426.28,111.05 L426.55,109.19 L426.82,107.88 L427.09,107.47 L427.36,107.47 L427.62,107.47 L427.89,107.87 L428.16,109.15 L428.43,110.95 L428.70,112.76 L428.97,114.04 L429.24,114.44 L429.51,114.44 L429.78,114.44 L430.05,114.05 L430.32,112.80 L430.59,111.05 L430.86,109.29 L431.13,108.04 L431.40,107.65 L431.67,107.65 L431.94,107.65 L432.21,108.03 L432.48,109.25 L432.75,110.95 L433.02,112.66 L433.29,113.88 L433.56,114.26 L433.83,114.26 L434.10,114.26 L434.37,113.89 L434.64,112.71 L434.91,111.04 L435.18,109.38 L435.45,108.20 L435.72,107.83 L435.99,107.83 L436.26,107.83 L436.53,108.19 L436.80,109.34 L437.07,110.96 L437.34,112.57 L437.61,113.72 L437.88,114.08 L438.15,114.08 L438.42,114.08 L438.69,113.73 L438.96,112.61 L439.23,111.04 L439.50,109.47 L439.77,108.36 L440.04,108.01 L440.31,108.01 L440.58,108.01 L440.85,108.35 L441.12,109.43 L441.39,110.96 L441.66,112.48 L441.93,113.57 L442.20,113.90 L442.47,113.90 L442.74,113.90 L443.01,113.58 L443.28,112.52 L443.55,111.04 L443.82,109.56 L444.09,108.51 L444.36,108.18 L444.62,108.18 L444.89,108.18 L445.16,108.50 L445.43,109.52 L445.70,110.96 L445.97,112.39 L446.24,113.41 L446.51,113.73 L446.78,113.73 L447.05,113.73 L447.32,113.42 L447.59,112.43 L447.86,111.04 L448.13,109.65 L448.40,108.66 L448.67,108.35 L448.94,108.35 L449.21,108.35 L449.48,108.65 L449.75,109.61 L450.02,110.96 L450.29,112.30 L450.56,113.26 L450.83,113.56 L451.10,113.56 L451.37,113.56 L451.64,113.27 L451.91,112.35 L452.18,111.04 L452.45,109.74 L452.72,108.81 L452.99,108.52 L453.26,108.52 L453.53,108.52 L453.80,108.80 L454.07,109.70 L454.34,110.96 L454.61,112.22 L454.88,113.12 L455.15,113.39 L455.42,113.39 L455.69,113.39 L455.96,113.12 L456.23,112.26 L456.50,111.04 L456.77,109.82 L457.04,108.96 L457.31,108.69 L457.58,108.69 L457.85,108.69 L458.12,108.95 L458.39,109.78 L458.66,110.96 L458.93,112.13 L459.20,112.97 L459.47,113.23 L459.74,113.23 L460.01,113.23 L460.28,112.98 L460.55,112.17 L460.82,111.04 L461.09,109.91 L461.36,109.10 L461.63,108.85 L461.89,108.85 L462.16,108.85 L462.43,109.09 L462.70,109.87 L462.97,110.96 L463.24,112.05 L463.51,112.83 L463.78,113.07 L464.05,113.07 L464.32,113.07 L464.59,112.84 L464.86,112.09 L465.13,111.04 L465.40,109.99 L465.67,109.24 L465.94,109.01 L466.21,109.01 L466.48,109.01 L466.75,109.23 L467.02,109.95 L467.29,110.96 L467.56,111.97 L467.83,112.69 L468.10,112.91 L468.37,112.91 L468.64,112.91 L468.91,112.70 L469.18,112.01 L469.45,111.04 L469.72,110.07 L469.99,109.38 L470.26,109.17 L470.53,109.17 L470.80,109.17 L471.07,109.37 L471.34,110.03 L471.61,110.96 L471.88,111.89 L472.15,112.55 L472.42,112.75 L472.69,112.75 L472.96,112.75 L473.23,112.56 L473.50,111.93 L473.77,111.04 L474.04,110.15 L474.31,109.52 L474.58,109.32 L474.85,109.32 L475.12,109.32 L475.39,109.51 L475.66,110.11 L475.93,110.96 L476.20,111.81 L476.47,112.41 L476.74,112.60 L477.01,112.60 L477.28,112.60 L477.55,112.42 L477.82,111.85 L478.09,111.04 L478.36,110.23 L478.63,109.65 L478.90,109.48 L479.16,109.48 L479.43,109.48 L479.70,109.65 L479.97,110.19 L480.24,110.96 L480.51,111.73 L480.78,112.28 L481.05,112.45 L481.32,112.45 L481.59,112.45 L481.86,112.29 L482.13,111.77 L482.40,111.04 L482.67,110.31 L482.94,109.79 L483.21,109.62 L483.48,109.62 L483.75,109.62 L484.02,109.78 L484.29,110.27 L484.56,110.96 L484.83,111.66 L485.10,112.15 L485.37,112.30 L485.64,112.30 L485.91,112.30 L486.18,112.16 L486.45,111.69 L486.72,111.04 L486.99,110.38 L487.26,109.92 L487.53,109.77 L487.80,109.77 L488.07,109.77 L488.34,109.91 L488.61,110.35 L488.88,110.96 L489.15,111.58 L489.42,112.02 L489.69,112.16 L489.96,112.16 L490.23,112.16 L490.50,112.03 L490.77,111.62 L491.04,111.04 L491.31,110.46 L491.58,110.04 L491.85,109.92 L492.12,109.92 L492.39,109.92 L492.66,110.04 L492.93,110.42 L493.20,110.96 L493.47,111.51 L493.74,111.89 L494.01,112.01 L494.28,112.01 L494.55,112.01 L494.82,111.90 L495.09,111.54 L495.36,111.04 L495.63,110.53 L495.90,110.17 L496.17,110.06 L496.43,110.06 L496.70,110.06 L496.97,110.16 L497.24,110.50 L497.51,110.96 L497.78,111.43 L498.05,111.77 L498.32,111.87 L498.59,111.87 L498.86,111.87 L499.13,111.78 L499.40,111.47 L499.67,111.03 L499.94,110.60 L500.21,110.29 L500.48,110.20 L500.75,110.20 L501.02,110.20 L501.29,110.29 L501.56,110.57 L501.83,110.97 L502.10,111.36 L502.37,111.65 L502.64,111.73 L502.91,111.73 L503.18,111.73 L503.45,111.65 L503.72,111.40 L503.99,111.03 L504.26,110.67 L504.53,110.42 L504.80,110.34 L505.07,110.34 L505.34,110.34 L505.61,110.41 L505.88,110.64 L506.15,110.97 L506.42,111.29 L506.69,111.52 L506.96,111.60 L507.23,111.60 L507.50,111.60 L507.77,111.53 L508.04,111.33 L508.31,111.03 L508.58,110.74 L508.85,110.53 L509.12,110.47 L509.39,110.47 L509.66,110.47 L509.93,110.52 L510.20,110.70 L510.47,110.95 L510.74,111.19 L511.01,111.37 L511.28,111.42 L511.55,111.42 L511.82,111.42 L512.09,111.38 L512.36,111.24 L512.63,111.05 L512.90,110.86 L513.17,110.73 L513.44,110.68 L513.71,110.68 L513.97,110.68 L514.24,110.71 L514.51,110.81 L514.78,110.95 L515.05,111.08 L515.32,111.18 L515.59,111.21 L515.86,111.21 L516.13,111.21 L516.40,111.19 L516.67,111.13 L516.94,111.05 L517.21,110.97 L517.48,110.91 L517.75,110.89 L518.02,110.89 L518.29,110.89 L518.56,110.90 L518.83,110.94 L519.10,110.98 L519.37,111.02 L519.64,111.06 L519.91,111.07 L520.18,111.07 L520.45,111.07 L520.72,111.06 L520.99,111.04 L521.26,111.02 L521.53,111.00 L521.80,110.98 L522.07,110.98 L522.34,110.98 L522.61,110.98 L522.88,110.98 L523.15,110.98 L523.42,110.99 L523.69,110.99 L523.96,111.00 L524.23,111.00 L524.50,111.00 L526.00,111.00 L540.80,111.00"/>
<path stroke="#ff00ff" stroke-width="2.1" d="M56.00,111.35 H122.90"/>
<path stroke="#808080" stroke-width="2.15" d="M56.00,111.00 H122.90"/>
<path stroke="#ff00ff" stroke-width="2.1" d="M519.50,111.35 H540.80"/>
<path stroke="#808080" stroke-width="2.15" d="M519.50,111.00 H540.80"/>
</g>
<g stroke="#262626" stroke-width="1" fill="none">
<rect x="56.00" y="9.85" width="484.80" height="202.40"/>
</g>
<rect x="456.5" y="20.4" width="73.1" height="71.5" fill="#ffffff" stroke="#262626" stroke-width="1"/>
<path d="M460.1,29.10 H484.3" stroke="#0000ff" stroke-width="2.5" fill="none"/>
<path d="M460.1,42.95 H484.3" stroke="#ff0000" stroke-width="2.5" fill="none"/>
<path d="M460.1,56.80 H484.3" stroke="#008000" stroke-width="2.5" fill="none"/>
<path d="M460.1,70.65 H484.3" stroke="#ff00ff" stroke-width="2.5" fill="none"/>
<path d="M460.1,84.50 H484.3" stroke="#808080" stroke-width="2.5" fill="none"/>
</svg>
<div class="t yt" style="top:6.55px">0.015</div>
<div class="t yt" style="top:40.28px">0.01</div>
<div class="t yt" style="top:74.02px">0.005</div>
<div class="t yt" style="top:107.75px">0</div>
<div class="t yt" style="top:141.48px">-0.005</div>
<div class="t yt" style="top:175.22px">-0.01</div>
<div class="t yt" style="top:208.95px">-0.015</div>
<div class="t xt" style="left:36.00px;top:221.30px">0</div>
<div class="t xt" style="left:105.26px;top:221.30px">10</div>
<div class="t xt" style="left:174.51px;top:221.30px">20</div>
<div class="t xt" style="left:243.77px;top:221.30px">30</div>
<div class="t xt" style="left:313.03px;top:221.30px">40</div>
<div class="t xt" style="left:382.29px;top:221.30px">50</div>
<div class="t xt" style="left:451.54px;top:221.30px">60</div>
<div class="t xt" style="left:520.80px;top:221.30px">70</div>
<div class="t lg" style="top:25.50px">5th floor</div>
<div class="t lg" style="top:39.35px">4th floor</div>
<div class="t lg" style="top:53.20px">3rd floor</div>
<div class="t lg" style="top:67.05px">2nd floor</div>
<div class="t lg" style="top:80.90px">1st floor</div>
<div class="t xl">Time (s)</div>
<div class="t yl">Displacement (m)</div>
</body></html>
